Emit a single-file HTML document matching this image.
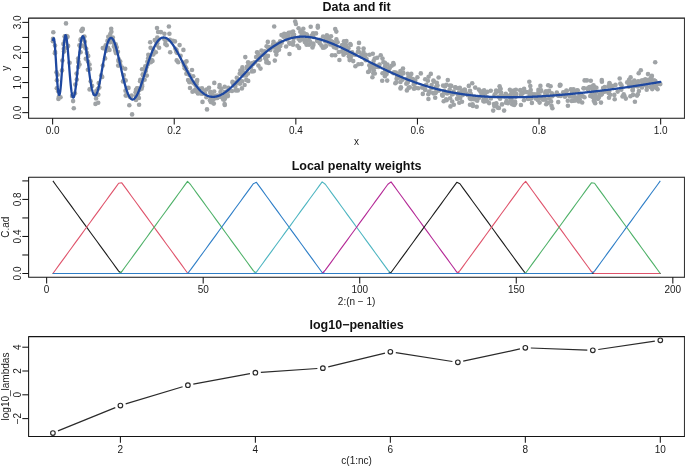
<!DOCTYPE html>
<html><head><meta charset="utf-8"><style>
html,body{margin:0;padding:0;background:#fff;width:685px;height:467px;overflow:hidden}
svg{display:block;font-family:"Liberation Sans", Arial, sans-serif}
</style></head><body>
<svg width="685" height="467" viewBox="0 0 685 467">
<rect width="685" height="467" fill="#fff"/>
<path d="M684.45,18.12 H28.6 V118.26 H684.45" fill="none" stroke="#141414" stroke-width="1.05" stroke-linejoin="round" stroke-linecap="square"/>
<line x1="684.45" y1="18.12" x2="684.45" y2="118.26" stroke="#2a2a2a" stroke-width="1.0"/>
<text x="356.60" y="10.80" font-size="12.5" text-anchor="middle" font-weight="bold" fill="#111">Data and fit</text>
<line x1="52.62" y1="118.26" x2="52.62" y2="124.56" stroke="#141414" stroke-width="1.05"/>
<text x="52.62" y="133.70" font-size="10" text-anchor="middle" fill="#1a1a1a">0.0</text>
<line x1="174.23" y1="118.26" x2="174.23" y2="124.56" stroke="#141414" stroke-width="1.05"/>
<text x="174.23" y="133.70" font-size="10" text-anchor="middle" fill="#1a1a1a">0.2</text>
<line x1="295.84" y1="118.26" x2="295.84" y2="124.56" stroke="#141414" stroke-width="1.05"/>
<text x="295.84" y="133.70" font-size="10" text-anchor="middle" fill="#1a1a1a">0.4</text>
<line x1="417.44" y1="118.26" x2="417.44" y2="124.56" stroke="#141414" stroke-width="1.05"/>
<text x="417.44" y="133.70" font-size="10" text-anchor="middle" fill="#1a1a1a">0.6</text>
<line x1="539.05" y1="118.26" x2="539.05" y2="124.56" stroke="#141414" stroke-width="1.05"/>
<text x="539.05" y="133.70" font-size="10" text-anchor="middle" fill="#1a1a1a">0.8</text>
<line x1="660.66" y1="118.26" x2="660.66" y2="124.56" stroke="#141414" stroke-width="1.05"/>
<text x="660.66" y="133.70" font-size="10" text-anchor="middle" fill="#1a1a1a">1.0</text>
<text x="356.60" y="145.10" font-size="10" text-anchor="middle" fill="#1a1a1a">x</text>
<line x1="28.60" y1="112.63" x2="22.30" y2="112.63" stroke="#141414" stroke-width="1.05"/>
<text transform="translate(21.30,112.63) rotate(-90)" font-size="10" text-anchor="middle" fill="#1a1a1a">0.0</text>
<line x1="28.60" y1="97.59" x2="22.30" y2="97.59" stroke="#141414" stroke-width="1.05"/>
<line x1="28.60" y1="82.54" x2="22.30" y2="82.54" stroke="#141414" stroke-width="1.05"/>
<text transform="translate(21.30,82.54) rotate(-90)" font-size="10" text-anchor="middle" fill="#1a1a1a">1.0</text>
<line x1="28.60" y1="67.50" x2="22.30" y2="67.50" stroke="#141414" stroke-width="1.05"/>
<line x1="28.60" y1="52.46" x2="22.30" y2="52.46" stroke="#141414" stroke-width="1.05"/>
<text transform="translate(21.30,52.46) rotate(-90)" font-size="10" text-anchor="middle" fill="#1a1a1a">2.0</text>
<line x1="28.60" y1="37.42" x2="22.30" y2="37.42" stroke="#141414" stroke-width="1.05"/>
<line x1="28.60" y1="22.38" x2="22.30" y2="22.38" stroke="#141414" stroke-width="1.05"/>
<text transform="translate(21.30,22.38) rotate(-90)" font-size="10" text-anchor="middle" fill="#1a1a1a">3.0</text>
<text transform="translate(8.60,68.19) rotate(-90)" font-size="10" text-anchor="middle" fill="#1a1a1a">y</text>
<g fill="#9fa3a6"><circle cx="227.5" cy="94.6" r="2.3"/><circle cx="531.9" cy="102.9" r="2.3"/><circle cx="301.3" cy="31.2" r="2.3"/><circle cx="589.5" cy="87.1" r="2.3"/><circle cx="624.5" cy="96.0" r="2.3"/><circle cx="80.3" cy="46.6" r="2.3"/><circle cx="373.7" cy="70.3" r="2.3"/><circle cx="595.2" cy="103.3" r="2.3"/><circle cx="387.9" cy="70.9" r="2.3"/><circle cx="330.3" cy="44.4" r="2.3"/><circle cx="634.4" cy="86.1" r="2.3"/><circle cx="328.3" cy="41.8" r="2.3"/><circle cx="464.6" cy="89.5" r="2.3"/><circle cx="400.8" cy="76.2" r="2.3"/><circle cx="115.2" cy="48.4" r="2.3"/><circle cx="599.7" cy="94.7" r="2.3"/><circle cx="202.3" cy="93.8" r="2.3"/><circle cx="78.2" cy="62.1" r="2.3"/><circle cx="252.0" cy="71.4" r="2.3"/><circle cx="633.0" cy="86.9" r="2.3"/><circle cx="593.5" cy="85.3" r="2.3"/><circle cx="473.9" cy="96.6" r="2.3"/><circle cx="442.1" cy="94.9" r="2.3"/><circle cx="657.2" cy="83.9" r="2.3"/><circle cx="451.3" cy="85.9" r="2.3"/><circle cx="483.4" cy="93.5" r="2.3"/><circle cx="383.4" cy="62.2" r="2.3"/><circle cx="413.9" cy="81.6" r="2.3"/><circle cx="228.4" cy="87.7" r="2.3"/><circle cx="142.1" cy="84.7" r="2.3"/><circle cx="638.2" cy="81.4" r="2.3"/><circle cx="601.3" cy="93.1" r="2.3"/><circle cx="472.6" cy="104.3" r="2.3"/><circle cx="536.3" cy="95.9" r="2.3"/><circle cx="67.6" cy="36.8" r="2.3"/><circle cx="343.1" cy="44.7" r="2.3"/><circle cx="513.8" cy="90.5" r="2.3"/><circle cx="184.2" cy="63.1" r="2.3"/><circle cx="246.1" cy="75.4" r="2.3"/><circle cx="193.5" cy="83.3" r="2.3"/><circle cx="139.4" cy="90.0" r="2.3"/><circle cx="304.7" cy="40.3" r="2.3"/><circle cx="304.2" cy="33.2" r="2.3"/><circle cx="276.9" cy="51.3" r="2.3"/><circle cx="145.3" cy="66.4" r="2.3"/><circle cx="137.0" cy="88.3" r="2.3"/><circle cx="194.3" cy="90.6" r="2.3"/><circle cx="335.9" cy="42.4" r="2.3"/><circle cx="214.3" cy="82.9" r="2.3"/><circle cx="574.2" cy="96.7" r="2.3"/><circle cx="80.5" cy="39.9" r="2.3"/><circle cx="321.5" cy="45.5" r="2.3"/><circle cx="538.4" cy="89.9" r="2.3"/><circle cx="126.7" cy="88.1" r="2.3"/><circle cx="393.7" cy="64.5" r="2.3"/><circle cx="178.2" cy="62.3" r="2.3"/><circle cx="130.2" cy="96.5" r="2.3"/><circle cx="510.7" cy="100.7" r="2.3"/><circle cx="596.8" cy="91.8" r="2.3"/><circle cx="280.3" cy="46.1" r="2.3"/><circle cx="457.0" cy="98.7" r="2.3"/><circle cx="110.3" cy="34.1" r="2.3"/><circle cx="286.1" cy="46.5" r="2.3"/><circle cx="219.5" cy="87.2" r="2.3"/><circle cx="548.0" cy="103.0" r="2.3"/><circle cx="325.3" cy="41.4" r="2.3"/><circle cx="545.2" cy="92.9" r="2.3"/><circle cx="546.6" cy="92.5" r="2.3"/><circle cx="535.6" cy="98.5" r="2.3"/><circle cx="320.1" cy="39.9" r="2.3"/><circle cx="511.4" cy="91.8" r="2.3"/><circle cx="435.2" cy="97.8" r="2.3"/><circle cx="484.4" cy="101.5" r="2.3"/><circle cx="53.0" cy="38.9" r="2.3"/><circle cx="341.6" cy="51.5" r="2.3"/><circle cx="186.5" cy="61.4" r="2.3"/><circle cx="283.6" cy="36.8" r="2.3"/><circle cx="425.2" cy="85.8" r="2.3"/><circle cx="266.5" cy="60.3" r="2.3"/><circle cx="120.2" cy="64.5" r="2.3"/><circle cx="200.8" cy="93.4" r="2.3"/><circle cx="458.8" cy="94.6" r="2.3"/><circle cx="306.6" cy="44.8" r="2.3"/><circle cx="531.9" cy="93.9" r="2.3"/><circle cx="115.2" cy="50.8" r="2.3"/><circle cx="317.1" cy="40.9" r="2.3"/><circle cx="651.5" cy="80.8" r="2.3"/><circle cx="595.6" cy="95.5" r="2.3"/><circle cx="591.6" cy="87.8" r="2.3"/><circle cx="159.1" cy="47.8" r="2.3"/><circle cx="132.1" cy="114.4" r="2.3"/><circle cx="449.7" cy="89.6" r="2.3"/><circle cx="261.5" cy="50.6" r="2.3"/><circle cx="452.0" cy="94.5" r="2.3"/><circle cx="247.4" cy="67.2" r="2.3"/><circle cx="166.7" cy="45.2" r="2.3"/><circle cx="528.3" cy="97.9" r="2.3"/><circle cx="109.5" cy="50.0" r="2.3"/><circle cx="336.4" cy="39.4" r="2.3"/><circle cx="363.6" cy="48.6" r="2.3"/><circle cx="417.4" cy="77.2" r="2.3"/><circle cx="255.0" cy="62.2" r="2.3"/><circle cx="349.7" cy="53.0" r="2.3"/><circle cx="633.0" cy="94.9" r="2.3"/><circle cx="346.2" cy="46.3" r="2.3"/><circle cx="594.0" cy="92.3" r="2.3"/><circle cx="608.6" cy="93.1" r="2.3"/><circle cx="422.8" cy="93.9" r="2.3"/><circle cx="302.3" cy="39.2" r="2.3"/><circle cx="142.1" cy="86.5" r="2.3"/><circle cx="621.3" cy="89.8" r="2.3"/><circle cx="235.8" cy="90.4" r="2.3"/><circle cx="89.5" cy="64.6" r="2.3"/><circle cx="628.9" cy="86.4" r="2.3"/><circle cx="490.8" cy="90.7" r="2.3"/><circle cx="139.1" cy="104.8" r="2.3"/><circle cx="386.6" cy="73.9" r="2.3"/><circle cx="632.7" cy="89.8" r="2.3"/><circle cx="408.6" cy="87.9" r="2.3"/><circle cx="298.6" cy="28.2" r="2.3"/><circle cx="446.6" cy="100.2" r="2.3"/><circle cx="247.1" cy="68.7" r="2.3"/><circle cx="239.7" cy="73.7" r="2.3"/><circle cx="186.2" cy="68.2" r="2.3"/><circle cx="277.3" cy="49.1" r="2.3"/><circle cx="651.1" cy="77.5" r="2.3"/><circle cx="146.4" cy="67.3" r="2.3"/><circle cx="108.0" cy="47.8" r="2.3"/><circle cx="138.9" cy="98.0" r="2.3"/><circle cx="472.2" cy="83.2" r="2.3"/><circle cx="429.2" cy="91.5" r="2.3"/><circle cx="594.6" cy="102.1" r="2.3"/><circle cx="461.8" cy="91.2" r="2.3"/><circle cx="500.8" cy="95.7" r="2.3"/><circle cx="369.5" cy="71.0" r="2.3"/><circle cx="453.8" cy="104.8" r="2.3"/><circle cx="552.3" cy="96.2" r="2.3"/><circle cx="530.7" cy="90.1" r="2.3"/><circle cx="648.4" cy="79.7" r="2.3"/><circle cx="319.8" cy="43.2" r="2.3"/><circle cx="242.1" cy="81.2" r="2.3"/><circle cx="301.6" cy="35.8" r="2.3"/><circle cx="59.0" cy="96.5" r="2.3"/><circle cx="164.4" cy="33.7" r="2.3"/><circle cx="565.0" cy="96.7" r="2.3"/><circle cx="193.2" cy="76.2" r="2.3"/><circle cx="198.0" cy="93.5" r="2.3"/><circle cx="99.3" cy="87.6" r="2.3"/><circle cx="202.0" cy="88.3" r="2.3"/><circle cx="497.8" cy="91.5" r="2.3"/><circle cx="567.9" cy="105.7" r="2.3"/><circle cx="355.1" cy="54.8" r="2.3"/><circle cx="288.5" cy="35.5" r="2.3"/><circle cx="202.5" cy="101.9" r="2.3"/><circle cx="120.2" cy="61.6" r="2.3"/><circle cx="289.8" cy="43.8" r="2.3"/><circle cx="400.4" cy="71.1" r="2.3"/><circle cx="184.5" cy="62.6" r="2.3"/><circle cx="323.1" cy="36.6" r="2.3"/><circle cx="185.2" cy="66.4" r="2.3"/><circle cx="358.0" cy="51.8" r="2.3"/><circle cx="267.8" cy="41.9" r="2.3"/><circle cx="447.8" cy="80.1" r="2.3"/><circle cx="280.5" cy="42.4" r="2.3"/><circle cx="268.7" cy="63.0" r="2.3"/><circle cx="377.1" cy="66.4" r="2.3"/><circle cx="502.8" cy="96.3" r="2.3"/><circle cx="187.1" cy="71.7" r="2.3"/><circle cx="303.6" cy="34.0" r="2.3"/><circle cx="214.2" cy="91.5" r="2.3"/><circle cx="435.7" cy="92.3" r="2.3"/><circle cx="164.4" cy="39.2" r="2.3"/><circle cx="577.8" cy="90.6" r="2.3"/><circle cx="506.6" cy="100.9" r="2.3"/><circle cx="459.0" cy="93.4" r="2.3"/><circle cx="428.4" cy="99.0" r="2.3"/><circle cx="279.0" cy="49.7" r="2.3"/><circle cx="374.8" cy="73.5" r="2.3"/><circle cx="584.5" cy="97.3" r="2.3"/><circle cx="406.3" cy="83.8" r="2.3"/><circle cx="563.2" cy="92.2" r="2.3"/><circle cx="242.6" cy="69.7" r="2.3"/><circle cx="483.3" cy="101.1" r="2.3"/><circle cx="213.8" cy="103.6" r="2.3"/><circle cx="414.0" cy="88.8" r="2.3"/><circle cx="345.3" cy="53.1" r="2.3"/><circle cx="213.8" cy="99.0" r="2.3"/><circle cx="395.9" cy="72.5" r="2.3"/><circle cx="607.9" cy="91.2" r="2.3"/><circle cx="601.0" cy="102.6" r="2.3"/><circle cx="219.3" cy="96.7" r="2.3"/><circle cx="248.1" cy="62.3" r="2.3"/><circle cx="651.9" cy="75.9" r="2.3"/><circle cx="429.6" cy="92.3" r="2.3"/><circle cx="622.5" cy="96.5" r="2.3"/><circle cx="336.3" cy="31.6" r="2.3"/><circle cx="300.0" cy="38.4" r="2.3"/><circle cx="453.5" cy="93.6" r="2.3"/><circle cx="145.3" cy="69.3" r="2.3"/><circle cx="400.9" cy="87.2" r="2.3"/><circle cx="197.8" cy="92.6" r="2.3"/><circle cx="637.8" cy="94.3" r="2.3"/><circle cx="418.3" cy="88.2" r="2.3"/><circle cx="365.8" cy="60.2" r="2.3"/><circle cx="297.4" cy="45.8" r="2.3"/><circle cx="587.8" cy="88.2" r="2.3"/><circle cx="274.0" cy="44.1" r="2.3"/><circle cx="227.9" cy="96.1" r="2.3"/><circle cx="156.4" cy="42.1" r="2.3"/><circle cx="157.3" cy="37.5" r="2.3"/><circle cx="345.7" cy="44.4" r="2.3"/><circle cx="206.4" cy="97.2" r="2.3"/><circle cx="184.1" cy="65.6" r="2.3"/><circle cx="462.7" cy="95.1" r="2.3"/><circle cx="81.6" cy="30.9" r="2.3"/><circle cx="478.8" cy="89.6" r="2.3"/><circle cx="266.6" cy="46.2" r="2.3"/><circle cx="301.3" cy="39.1" r="2.3"/><circle cx="551.8" cy="93.3" r="2.3"/><circle cx="611.3" cy="86.3" r="2.3"/><circle cx="224.4" cy="99.6" r="2.3"/><circle cx="637.0" cy="95.6" r="2.3"/><circle cx="495.5" cy="93.5" r="2.3"/><circle cx="470.0" cy="104.7" r="2.3"/><circle cx="84.8" cy="41.6" r="2.3"/><circle cx="292.9" cy="36.7" r="2.3"/><circle cx="343.2" cy="46.2" r="2.3"/><circle cx="393.3" cy="73.1" r="2.3"/><circle cx="477.2" cy="100.7" r="2.3"/><circle cx="609.4" cy="83.1" r="2.3"/><circle cx="428.6" cy="76.8" r="2.3"/><circle cx="313.1" cy="33.3" r="2.3"/><circle cx="382.2" cy="80.8" r="2.3"/><circle cx="88.2" cy="55.9" r="2.3"/><circle cx="211.2" cy="97.8" r="2.3"/><circle cx="294.1" cy="34.8" r="2.3"/><circle cx="172.9" cy="40.8" r="2.3"/><circle cx="558.5" cy="95.6" r="2.3"/><circle cx="145.6" cy="71.2" r="2.3"/><circle cx="541.1" cy="90.2" r="2.3"/><circle cx="385.1" cy="66.2" r="2.3"/><circle cx="455.3" cy="87.4" r="2.3"/><circle cx="157.0" cy="28.1" r="2.3"/><circle cx="437.5" cy="85.6" r="2.3"/><circle cx="242.2" cy="74.8" r="2.3"/><circle cx="493.2" cy="110.6" r="2.3"/><circle cx="295.2" cy="21.6" r="2.3"/><circle cx="642.0" cy="87.4" r="2.3"/><circle cx="640.8" cy="70.3" r="2.3"/><circle cx="494.5" cy="95.1" r="2.3"/><circle cx="209.0" cy="87.7" r="2.3"/><circle cx="187.5" cy="72.2" r="2.3"/><circle cx="413.2" cy="79.2" r="2.3"/><circle cx="215.3" cy="96.1" r="2.3"/><circle cx="375.5" cy="67.0" r="2.3"/><circle cx="530.1" cy="97.7" r="2.3"/><circle cx="154.8" cy="40.1" r="2.3"/><circle cx="298.5" cy="38.7" r="2.3"/><circle cx="339.4" cy="60.0" r="2.3"/><circle cx="580.5" cy="93.8" r="2.3"/><circle cx="615.5" cy="84.9" r="2.3"/><circle cx="588.9" cy="87.9" r="2.3"/><circle cx="462.6" cy="90.8" r="2.3"/><circle cx="630.4" cy="96.3" r="2.3"/><circle cx="366.6" cy="59.1" r="2.3"/><circle cx="403.2" cy="72.6" r="2.3"/><circle cx="257.1" cy="52.2" r="2.3"/><circle cx="263.8" cy="54.9" r="2.3"/><circle cx="64.8" cy="41.1" r="2.3"/><circle cx="358.4" cy="48.2" r="2.3"/><circle cx="582.2" cy="102.5" r="2.3"/><circle cx="56.5" cy="72.2" r="2.3"/><circle cx="96.4" cy="93.4" r="2.3"/><circle cx="152.5" cy="61.0" r="2.3"/><circle cx="521.0" cy="95.7" r="2.3"/><circle cx="499.6" cy="86.2" r="2.3"/><circle cx="643.6" cy="84.3" r="2.3"/><circle cx="336.3" cy="48.1" r="2.3"/><circle cx="97.8" cy="89.1" r="2.3"/><circle cx="447.1" cy="93.5" r="2.3"/><circle cx="513.9" cy="92.7" r="2.3"/><circle cx="136.0" cy="89.7" r="2.3"/><circle cx="293.8" cy="38.0" r="2.3"/><circle cx="189.4" cy="82.3" r="2.3"/><circle cx="87.9" cy="69.7" r="2.3"/><circle cx="293.3" cy="41.7" r="2.3"/><circle cx="92.1" cy="85.9" r="2.3"/><circle cx="190.0" cy="88.0" r="2.3"/><circle cx="85.8" cy="58.7" r="2.3"/><circle cx="460.2" cy="98.1" r="2.3"/><circle cx="233.7" cy="82.9" r="2.3"/><circle cx="113.9" cy="46.5" r="2.3"/><circle cx="96.3" cy="91.0" r="2.3"/><circle cx="588.0" cy="89.8" r="2.3"/><circle cx="511.2" cy="98.6" r="2.3"/><circle cx="549.1" cy="90.9" r="2.3"/><circle cx="649.8" cy="81.0" r="2.3"/><circle cx="115.6" cy="48.7" r="2.3"/><circle cx="112.8" cy="37.6" r="2.3"/><circle cx="538.3" cy="92.7" r="2.3"/><circle cx="529.7" cy="94.9" r="2.3"/><circle cx="58.4" cy="98.9" r="2.3"/><circle cx="526.3" cy="92.0" r="2.3"/><circle cx="496.1" cy="90.5" r="2.3"/><circle cx="435.8" cy="87.5" r="2.3"/><circle cx="345.0" cy="49.6" r="2.3"/><circle cx="147.9" cy="64.3" r="2.3"/><circle cx="57.6" cy="74.7" r="2.3"/><circle cx="327.7" cy="41.2" r="2.3"/><circle cx="352.0" cy="54.8" r="2.3"/><circle cx="289.5" cy="54.0" r="2.3"/><circle cx="335.2" cy="55.3" r="2.3"/><circle cx="486.3" cy="97.4" r="2.3"/><circle cx="86.2" cy="48.7" r="2.3"/><circle cx="268.3" cy="48.1" r="2.3"/><circle cx="540.8" cy="91.5" r="2.3"/><circle cx="560.8" cy="95.9" r="2.3"/><circle cx="197.2" cy="80.1" r="2.3"/><circle cx="267.9" cy="55.7" r="2.3"/><circle cx="573.6" cy="100.7" r="2.3"/><circle cx="571.7" cy="101.0" r="2.3"/><circle cx="232.5" cy="81.9" r="2.3"/><circle cx="142.0" cy="82.0" r="2.3"/><circle cx="480.7" cy="91.8" r="2.3"/><circle cx="115.7" cy="48.0" r="2.3"/><circle cx="73.1" cy="101.1" r="2.3"/><circle cx="660.3" cy="84.1" r="2.3"/><circle cx="73.8" cy="108.2" r="2.3"/><circle cx="258.4" cy="65.6" r="2.3"/><circle cx="609.0" cy="97.7" r="2.3"/><circle cx="427.9" cy="80.7" r="2.3"/><circle cx="226.7" cy="95.2" r="2.3"/><circle cx="501.2" cy="92.8" r="2.3"/><circle cx="559.8" cy="85.7" r="2.3"/><circle cx="243.7" cy="75.5" r="2.3"/><circle cx="352.1" cy="52.2" r="2.3"/><circle cx="476.7" cy="106.7" r="2.3"/><circle cx="442.7" cy="95.8" r="2.3"/><circle cx="444.2" cy="90.8" r="2.3"/><circle cx="647.2" cy="81.9" r="2.3"/><circle cx="304.8" cy="42.1" r="2.3"/><circle cx="125.2" cy="68.8" r="2.3"/><circle cx="372.5" cy="67.1" r="2.3"/><circle cx="189.5" cy="74.9" r="2.3"/><circle cx="348.4" cy="48.2" r="2.3"/><circle cx="277.7" cy="43.8" r="2.3"/><circle cx="650.5" cy="87.1" r="2.3"/><circle cx="288.7" cy="32.8" r="2.3"/><circle cx="192.0" cy="70.0" r="2.3"/><circle cx="431.6" cy="88.3" r="2.3"/><circle cx="135.6" cy="92.2" r="2.3"/><circle cx="640.9" cy="85.2" r="2.3"/><circle cx="365.8" cy="54.8" r="2.3"/><circle cx="151.8" cy="60.0" r="2.3"/><circle cx="430.8" cy="73.9" r="2.3"/><circle cx="652.1" cy="86.6" r="2.3"/><circle cx="459.3" cy="102.8" r="2.3"/><circle cx="307.3" cy="39.8" r="2.3"/><circle cx="249.2" cy="67.3" r="2.3"/><circle cx="560.5" cy="85.0" r="2.3"/><circle cx="140.1" cy="81.3" r="2.3"/><circle cx="169.9" cy="39.9" r="2.3"/><circle cx="597.9" cy="98.9" r="2.3"/><circle cx="240.0" cy="83.8" r="2.3"/><circle cx="273.5" cy="47.1" r="2.3"/><circle cx="529.3" cy="81.7" r="2.3"/><circle cx="170.2" cy="52.3" r="2.3"/><circle cx="63.4" cy="43.9" r="2.3"/><circle cx="299.9" cy="40.6" r="2.3"/><circle cx="346.4" cy="41.1" r="2.3"/><circle cx="309.1" cy="44.8" r="2.3"/><circle cx="261.1" cy="55.2" r="2.3"/><circle cx="579.5" cy="99.4" r="2.3"/><circle cx="329.3" cy="38.1" r="2.3"/><circle cx="377.2" cy="57.7" r="2.3"/><circle cx="638.7" cy="73.2" r="2.3"/><circle cx="523.6" cy="92.5" r="2.3"/><circle cx="179.6" cy="45.1" r="2.3"/><circle cx="240.4" cy="70.6" r="2.3"/><circle cx="643.2" cy="85.1" r="2.3"/><circle cx="408.3" cy="77.5" r="2.3"/><circle cx="515.2" cy="103.4" r="2.3"/><circle cx="279.2" cy="43.9" r="2.3"/><circle cx="520.3" cy="90.1" r="2.3"/><circle cx="379.5" cy="64.6" r="2.3"/><circle cx="608.4" cy="86.4" r="2.3"/><circle cx="165.3" cy="43.9" r="2.3"/><circle cx="224.2" cy="97.1" r="2.3"/><circle cx="110.4" cy="42.2" r="2.3"/><circle cx="180.6" cy="55.8" r="2.3"/><circle cx="646.7" cy="89.8" r="2.3"/><circle cx="232.8" cy="82.8" r="2.3"/><circle cx="494.0" cy="104.0" r="2.3"/><circle cx="530.3" cy="86.0" r="2.3"/><circle cx="116.7" cy="47.2" r="2.3"/><circle cx="198.3" cy="93.0" r="2.3"/><circle cx="217.1" cy="95.5" r="2.3"/><circle cx="114.1" cy="43.6" r="2.3"/><circle cx="124.3" cy="79.5" r="2.3"/><circle cx="655.3" cy="81.1" r="2.3"/><circle cx="652.2" cy="89.1" r="2.3"/><circle cx="136.0" cy="99.9" r="2.3"/><circle cx="603.1" cy="88.0" r="2.3"/><circle cx="403.0" cy="68.5" r="2.3"/><circle cx="293.1" cy="31.6" r="2.3"/><circle cx="326.1" cy="46.1" r="2.3"/><circle cx="482.2" cy="91.7" r="2.3"/><circle cx="102.8" cy="65.6" r="2.3"/><circle cx="258.9" cy="56.2" r="2.3"/><circle cx="466.6" cy="93.5" r="2.3"/><circle cx="245.3" cy="57.1" r="2.3"/><circle cx="558.2" cy="102.1" r="2.3"/><circle cx="183.5" cy="63.1" r="2.3"/><circle cx="355.4" cy="66.3" r="2.3"/><circle cx="220.5" cy="92.1" r="2.3"/><circle cx="169.4" cy="33.7" r="2.3"/><circle cx="630.6" cy="77.4" r="2.3"/><circle cx="248.2" cy="80.9" r="2.3"/><circle cx="343.5" cy="47.3" r="2.3"/><circle cx="69.6" cy="62.8" r="2.3"/><circle cx="385.5" cy="73.2" r="2.3"/><circle cx="444.3" cy="92.5" r="2.3"/><circle cx="415.2" cy="83.1" r="2.3"/><circle cx="248.4" cy="67.0" r="2.3"/><circle cx="594.5" cy="87.0" r="2.3"/><circle cx="433.4" cy="80.6" r="2.3"/><circle cx="236.8" cy="82.6" r="2.3"/><circle cx="288.7" cy="38.0" r="2.3"/><circle cx="150.2" cy="42.2" r="2.3"/><circle cx="577.1" cy="90.4" r="2.3"/><circle cx="632.1" cy="84.7" r="2.3"/><circle cx="395.3" cy="83.2" r="2.3"/><circle cx="253.0" cy="64.1" r="2.3"/><circle cx="658.6" cy="83.4" r="2.3"/><circle cx="195.4" cy="85.0" r="2.3"/><circle cx="425.1" cy="89.7" r="2.3"/><circle cx="118.4" cy="60.9" r="2.3"/><circle cx="348.8" cy="56.6" r="2.3"/><circle cx="113.1" cy="40.7" r="2.3"/><circle cx="150.6" cy="47.8" r="2.3"/><circle cx="224.7" cy="86.8" r="2.3"/><circle cx="407.6" cy="82.3" r="2.3"/><circle cx="497.5" cy="107.6" r="2.3"/><circle cx="153.3" cy="54.5" r="2.3"/><circle cx="579.5" cy="95.5" r="2.3"/><circle cx="483.5" cy="96.1" r="2.3"/><circle cx="515.0" cy="101.5" r="2.3"/><circle cx="142.1" cy="69.3" r="2.3"/><circle cx="270.3" cy="49.9" r="2.3"/><circle cx="462.0" cy="101.8" r="2.3"/><circle cx="371.1" cy="64.5" r="2.3"/><circle cx="265.3" cy="58.3" r="2.3"/><circle cx="198.9" cy="88.6" r="2.3"/><circle cx="88.0" cy="61.5" r="2.3"/><circle cx="196.5" cy="84.4" r="2.3"/><circle cx="593.8" cy="100.8" r="2.3"/><circle cx="546.2" cy="94.7" r="2.3"/><circle cx="507.1" cy="95.7" r="2.3"/><circle cx="146.8" cy="75.6" r="2.3"/><circle cx="128.5" cy="87.9" r="2.3"/><circle cx="645.3" cy="79.3" r="2.3"/><circle cx="317.8" cy="25.9" r="2.3"/><circle cx="334.8" cy="44.8" r="2.3"/><circle cx="153.1" cy="49.5" r="2.3"/><circle cx="408.3" cy="79.8" r="2.3"/><circle cx="217.3" cy="96.5" r="2.3"/><circle cx="192.5" cy="91.7" r="2.3"/><circle cx="472.9" cy="105.9" r="2.3"/><circle cx="224.6" cy="93.7" r="2.3"/><circle cx="545.4" cy="99.6" r="2.3"/><circle cx="109.7" cy="37.7" r="2.3"/><circle cx="552.4" cy="108.2" r="2.3"/><circle cx="312.5" cy="47.5" r="2.3"/><circle cx="512.2" cy="104.2" r="2.3"/><circle cx="455.4" cy="87.5" r="2.3"/><circle cx="322.9" cy="47.8" r="2.3"/><circle cx="433.9" cy="93.5" r="2.3"/><circle cx="52.9" cy="41.3" r="2.3"/><circle cx="184.7" cy="68.2" r="2.3"/><circle cx="481.2" cy="95.7" r="2.3"/><circle cx="183.4" cy="49.9" r="2.3"/><circle cx="547.5" cy="102.7" r="2.3"/><circle cx="239.8" cy="80.6" r="2.3"/><circle cx="470.8" cy="98.7" r="2.3"/><circle cx="619.7" cy="78.5" r="2.3"/><circle cx="123.0" cy="81.4" r="2.3"/><circle cx="130.3" cy="96.8" r="2.3"/><circle cx="465.0" cy="90.1" r="2.3"/><circle cx="313.4" cy="45.1" r="2.3"/><circle cx="560.0" cy="84.9" r="2.3"/><circle cx="643.3" cy="80.2" r="2.3"/><circle cx="95.5" cy="103.9" r="2.3"/><circle cx="332.2" cy="41.9" r="2.3"/><circle cx="479.2" cy="97.7" r="2.3"/><circle cx="105.5" cy="48.8" r="2.3"/><circle cx="656.4" cy="82.9" r="2.3"/><circle cx="206.5" cy="89.5" r="2.3"/><circle cx="82.7" cy="45.6" r="2.3"/><circle cx="469.9" cy="98.6" r="2.3"/><circle cx="531.1" cy="98.5" r="2.3"/><circle cx="267.6" cy="56.3" r="2.3"/><circle cx="275.4" cy="51.2" r="2.3"/><circle cx="227.2" cy="91.3" r="2.3"/><circle cx="101.2" cy="75.3" r="2.3"/><circle cx="274.8" cy="60.6" r="2.3"/><circle cx="160.9" cy="32.1" r="2.3"/><circle cx="378.6" cy="65.8" r="2.3"/><circle cx="359.0" cy="42.9" r="2.3"/><circle cx="627.2" cy="82.4" r="2.3"/><circle cx="260.2" cy="59.6" r="2.3"/><circle cx="335.2" cy="29.1" r="2.3"/><circle cx="102.8" cy="48.1" r="2.3"/><circle cx="575.6" cy="100.5" r="2.3"/><circle cx="293.2" cy="35.3" r="2.3"/><circle cx="500.1" cy="98.8" r="2.3"/><circle cx="157.0" cy="41.3" r="2.3"/><circle cx="329.1" cy="42.1" r="2.3"/><circle cx="520.9" cy="105.0" r="2.3"/><circle cx="90.7" cy="81.3" r="2.3"/><circle cx="548.2" cy="85.3" r="2.3"/><circle cx="235.7" cy="84.1" r="2.3"/><circle cx="274.4" cy="46.6" r="2.3"/><circle cx="242.4" cy="67.4" r="2.3"/><circle cx="75.3" cy="84.6" r="2.3"/><circle cx="368.1" cy="72.0" r="2.3"/><circle cx="465.5" cy="93.6" r="2.3"/><circle cx="601.8" cy="80.1" r="2.3"/><circle cx="68.1" cy="45.9" r="2.3"/><circle cx="654.0" cy="80.2" r="2.3"/><circle cx="236.8" cy="77.7" r="2.3"/><circle cx="623.7" cy="94.3" r="2.3"/><circle cx="470.7" cy="93.8" r="2.3"/><circle cx="324.4" cy="47.5" r="2.3"/><circle cx="549.1" cy="98.5" r="2.3"/><circle cx="76.6" cy="73.6" r="2.3"/><circle cx="502.0" cy="104.4" r="2.3"/><circle cx="264.7" cy="51.2" r="2.3"/><circle cx="556.8" cy="92.5" r="2.3"/><circle cx="378.3" cy="66.9" r="2.3"/><circle cx="219.6" cy="85.1" r="2.3"/><circle cx="539.6" cy="102.6" r="2.3"/><circle cx="108.3" cy="36.8" r="2.3"/><circle cx="558.6" cy="95.5" r="2.3"/><circle cx="221.0" cy="97.0" r="2.3"/><circle cx="510.5" cy="94.8" r="2.3"/><circle cx="638.9" cy="91.1" r="2.3"/><circle cx="102.2" cy="77.0" r="2.3"/><circle cx="572.1" cy="96.6" r="2.3"/><circle cx="540.4" cy="85.9" r="2.3"/><circle cx="286.8" cy="39.3" r="2.3"/><circle cx="251.8" cy="63.4" r="2.3"/><circle cx="177.2" cy="52.9" r="2.3"/><circle cx="398.8" cy="73.8" r="2.3"/><circle cx="592.6" cy="96.9" r="2.3"/><circle cx="374.7" cy="58.5" r="2.3"/><circle cx="409.5" cy="77.4" r="2.3"/><circle cx="457.4" cy="98.6" r="2.3"/><circle cx="374.8" cy="65.2" r="2.3"/><circle cx="362.6" cy="55.0" r="2.3"/><circle cx="62.4" cy="60.5" r="2.3"/><circle cx="81.6" cy="30.6" r="2.3"/><circle cx="617.7" cy="91.6" r="2.3"/><circle cx="520.4" cy="90.7" r="2.3"/><circle cx="174.9" cy="41.4" r="2.3"/><circle cx="448.0" cy="93.0" r="2.3"/><circle cx="450.1" cy="98.3" r="2.3"/><circle cx="293.0" cy="44.7" r="2.3"/><circle cx="546.5" cy="93.2" r="2.3"/><circle cx="385.2" cy="71.0" r="2.3"/><circle cx="590.8" cy="80.7" r="2.3"/><circle cx="389.1" cy="69.1" r="2.3"/><circle cx="603.5" cy="92.0" r="2.3"/><circle cx="409.8" cy="87.2" r="2.3"/><circle cx="310.1" cy="41.6" r="2.3"/><circle cx="630.0" cy="84.1" r="2.3"/><circle cx="483.7" cy="99.5" r="2.3"/><circle cx="303.9" cy="34.4" r="2.3"/><circle cx="63.8" cy="48.7" r="2.3"/><circle cx="397.2" cy="76.6" r="2.3"/><circle cx="350.6" cy="57.6" r="2.3"/><circle cx="586.9" cy="80.4" r="2.3"/><circle cx="546.9" cy="94.0" r="2.3"/><circle cx="571.9" cy="92.2" r="2.3"/><circle cx="276.3" cy="54.6" r="2.3"/><circle cx="584.0" cy="88.3" r="2.3"/><circle cx="144.6" cy="79.8" r="2.3"/><circle cx="224.0" cy="99.0" r="2.3"/><circle cx="458.0" cy="88.3" r="2.3"/><circle cx="646.9" cy="86.5" r="2.3"/><circle cx="406.9" cy="90.4" r="2.3"/><circle cx="372.8" cy="53.8" r="2.3"/><circle cx="89.6" cy="89.4" r="2.3"/><circle cx="641.8" cy="81.0" r="2.3"/><circle cx="125.7" cy="80.5" r="2.3"/><circle cx="106.3" cy="50.7" r="2.3"/><circle cx="588.2" cy="89.1" r="2.3"/><circle cx="361.7" cy="56.2" r="2.3"/><circle cx="257.8" cy="52.9" r="2.3"/><circle cx="596.4" cy="87.8" r="2.3"/><circle cx="72.1" cy="95.9" r="2.3"/><circle cx="196.9" cy="81.5" r="2.3"/><circle cx="470.0" cy="90.7" r="2.3"/><circle cx="189.9" cy="81.7" r="2.3"/><circle cx="246.3" cy="79.9" r="2.3"/><circle cx="158.4" cy="39.6" r="2.3"/><circle cx="539.9" cy="98.1" r="2.3"/><circle cx="141.6" cy="88.7" r="2.3"/><circle cx="552.9" cy="95.0" r="2.3"/><circle cx="253.9" cy="71.1" r="2.3"/><circle cx="280.1" cy="41.4" r="2.3"/><circle cx="435.5" cy="92.9" r="2.3"/><circle cx="111.4" cy="31.7" r="2.3"/><circle cx="66.0" cy="23.4" r="2.3"/><circle cx="656.4" cy="87.9" r="2.3"/><circle cx="407.7" cy="73.8" r="2.3"/><circle cx="528.0" cy="92.2" r="2.3"/><circle cx="594.9" cy="91.3" r="2.3"/><circle cx="511.6" cy="100.3" r="2.3"/><circle cx="648.0" cy="74.1" r="2.3"/><circle cx="79.5" cy="64.5" r="2.3"/><circle cx="601.9" cy="93.9" r="2.3"/><circle cx="578.9" cy="101.5" r="2.3"/><circle cx="524.1" cy="88.9" r="2.3"/><circle cx="281.7" cy="42.8" r="2.3"/><circle cx="78.2" cy="66.9" r="2.3"/><circle cx="274.2" cy="26.5" r="2.3"/><circle cx="219.1" cy="96.6" r="2.3"/><circle cx="569.7" cy="96.5" r="2.3"/><circle cx="273.0" cy="44.7" r="2.3"/><circle cx="237.8" cy="90.4" r="2.3"/><circle cx="514.2" cy="94.6" r="2.3"/><circle cx="566.3" cy="94.8" r="2.3"/><circle cx="331.1" cy="41.4" r="2.3"/><circle cx="496.3" cy="103.3" r="2.3"/><circle cx="115.9" cy="53.1" r="2.3"/><circle cx="186.4" cy="73.7" r="2.3"/><circle cx="632.7" cy="90.4" r="2.3"/><circle cx="509.9" cy="89.8" r="2.3"/><circle cx="550.6" cy="86.2" r="2.3"/><circle cx="306.6" cy="38.6" r="2.3"/><circle cx="413.7" cy="84.6" r="2.3"/><circle cx="538.3" cy="98.5" r="2.3"/><circle cx="592.8" cy="90.8" r="2.3"/><circle cx="286.8" cy="39.1" r="2.3"/><circle cx="107.5" cy="40.9" r="2.3"/><circle cx="433.1" cy="93.0" r="2.3"/><circle cx="506.0" cy="102.7" r="2.3"/><circle cx="104.5" cy="48.2" r="2.3"/><circle cx="235.3" cy="86.8" r="2.3"/><circle cx="426.3" cy="84.7" r="2.3"/><circle cx="510.4" cy="97.9" r="2.3"/><circle cx="610.2" cy="94.7" r="2.3"/><circle cx="341.9" cy="45.4" r="2.3"/><circle cx="397.5" cy="75.0" r="2.3"/><circle cx="500.5" cy="89.1" r="2.3"/><circle cx="574.0" cy="92.7" r="2.3"/><circle cx="605.4" cy="91.5" r="2.3"/><circle cx="86.9" cy="52.9" r="2.3"/><circle cx="358.4" cy="64.3" r="2.3"/><circle cx="265.8" cy="56.9" r="2.3"/><circle cx="566.8" cy="91.1" r="2.3"/><circle cx="543.0" cy="98.3" r="2.3"/><circle cx="124.0" cy="80.8" r="2.3"/><circle cx="486.0" cy="97.6" r="2.3"/><circle cx="195.7" cy="89.3" r="2.3"/><circle cx="98.2" cy="102.7" r="2.3"/><circle cx="621.5" cy="85.3" r="2.3"/><circle cx="148.2" cy="58.3" r="2.3"/><circle cx="446.1" cy="99.4" r="2.3"/><circle cx="158.1" cy="32.0" r="2.3"/><circle cx="64.8" cy="36.7" r="2.3"/><circle cx="369.6" cy="54.8" r="2.3"/><circle cx="105.1" cy="58.4" r="2.3"/><circle cx="224.7" cy="92.1" r="2.3"/><circle cx="308.3" cy="38.4" r="2.3"/><circle cx="409.7" cy="76.3" r="2.3"/><circle cx="543.1" cy="99.7" r="2.3"/><circle cx="175.4" cy="48.7" r="2.3"/><circle cx="332.0" cy="55.3" r="2.3"/><circle cx="325.1" cy="46.6" r="2.3"/><circle cx="498.8" cy="96.7" r="2.3"/><circle cx="487.2" cy="101.3" r="2.3"/><circle cx="558.0" cy="95.3" r="2.3"/><circle cx="591.7" cy="94.1" r="2.3"/><circle cx="631.9" cy="82.3" r="2.3"/><circle cx="387.4" cy="64.5" r="2.3"/><circle cx="370.2" cy="68.1" r="2.3"/><circle cx="156.4" cy="45.2" r="2.3"/><circle cx="344.0" cy="41.3" r="2.3"/><circle cx="207.0" cy="109.4" r="2.3"/><circle cx="76.8" cy="79.5" r="2.3"/><circle cx="438.6" cy="77.5" r="2.3"/><circle cx="380.7" cy="55.2" r="2.3"/><circle cx="137.8" cy="91.1" r="2.3"/><circle cx="225.1" cy="98.0" r="2.3"/><circle cx="407.1" cy="79.0" r="2.3"/><circle cx="153.0" cy="54.1" r="2.3"/><circle cx="111.2" cy="28.7" r="2.3"/><circle cx="313.2" cy="43.5" r="2.3"/><circle cx="268.9" cy="47.1" r="2.3"/><circle cx="566.4" cy="90.5" r="2.3"/><circle cx="210.8" cy="102.0" r="2.3"/><circle cx="66.7" cy="36.0" r="2.3"/><circle cx="577.0" cy="97.6" r="2.3"/><circle cx="256.1" cy="57.1" r="2.3"/><circle cx="436.8" cy="82.8" r="2.3"/><circle cx="384.9" cy="76.3" r="2.3"/><circle cx="281.5" cy="35.1" r="2.3"/><circle cx="165.6" cy="40.7" r="2.3"/><circle cx="313.4" cy="36.9" r="2.3"/><circle cx="436.2" cy="88.1" r="2.3"/><circle cx="369.3" cy="65.3" r="2.3"/><circle cx="453.7" cy="91.5" r="2.3"/><circle cx="496.1" cy="104.8" r="2.3"/><circle cx="348.6" cy="53.0" r="2.3"/><circle cx="286.4" cy="34.9" r="2.3"/><circle cx="56.8" cy="88.3" r="2.3"/><circle cx="54.9" cy="53.3" r="2.3"/><circle cx="657.6" cy="89.2" r="2.3"/><circle cx="118.2" cy="65.6" r="2.3"/><circle cx="307.2" cy="35.2" r="2.3"/><circle cx="489.1" cy="103.1" r="2.3"/><circle cx="504.1" cy="110.6" r="2.3"/><circle cx="582.8" cy="96.2" r="2.3"/><circle cx="422.2" cy="87.6" r="2.3"/><circle cx="512.4" cy="92.4" r="2.3"/><circle cx="567.8" cy="100.7" r="2.3"/><circle cx="425.2" cy="79.2" r="2.3"/><circle cx="534.9" cy="94.4" r="2.3"/><circle cx="66.5" cy="38.0" r="2.3"/><circle cx="306.1" cy="42.7" r="2.3"/><circle cx="584.6" cy="80.4" r="2.3"/><circle cx="446.2" cy="92.6" r="2.3"/><circle cx="614.7" cy="99.3" r="2.3"/><circle cx="157.3" cy="43.2" r="2.3"/><circle cx="244.6" cy="85.0" r="2.3"/><circle cx="541.6" cy="98.2" r="2.3"/><circle cx="653.9" cy="85.3" r="2.3"/><circle cx="248.6" cy="64.8" r="2.3"/><circle cx="53.3" cy="32.3" r="2.3"/><circle cx="655.9" cy="86.8" r="2.3"/><circle cx="142.8" cy="74.3" r="2.3"/><circle cx="82.6" cy="28.9" r="2.3"/><circle cx="415.8" cy="87.9" r="2.3"/><circle cx="248.0" cy="73.5" r="2.3"/><circle cx="373.6" cy="61.0" r="2.3"/><circle cx="536.3" cy="95.6" r="2.3"/><circle cx="94.5" cy="94.1" r="2.3"/><circle cx="475.2" cy="87.6" r="2.3"/><circle cx="629.4" cy="83.9" r="2.3"/><circle cx="221.5" cy="88.8" r="2.3"/><circle cx="204.3" cy="90.8" r="2.3"/><circle cx="149.6" cy="56.3" r="2.3"/><circle cx="96.2" cy="94.3" r="2.3"/><circle cx="391.6" cy="65.7" r="2.3"/><circle cx="350.5" cy="59.2" r="2.3"/><circle cx="353.2" cy="61.1" r="2.3"/><circle cx="592.8" cy="87.6" r="2.3"/><circle cx="74.9" cy="93.3" r="2.3"/><circle cx="176.5" cy="50.0" r="2.3"/><circle cx="365.0" cy="56.1" r="2.3"/><circle cx="196.3" cy="81.7" r="2.3"/><circle cx="402.5" cy="79.7" r="2.3"/><circle cx="345.9" cy="52.7" r="2.3"/><circle cx="398.8" cy="76.2" r="2.3"/><circle cx="140.3" cy="79.9" r="2.3"/><circle cx="141.2" cy="81.2" r="2.3"/><circle cx="303.3" cy="28.8" r="2.3"/><circle cx="467.9" cy="95.3" r="2.3"/><circle cx="449.9" cy="85.6" r="2.3"/><circle cx="609.6" cy="83.7" r="2.3"/><circle cx="547.0" cy="92.3" r="2.3"/><circle cx="463.6" cy="92.2" r="2.3"/><circle cx="543.6" cy="97.9" r="2.3"/><circle cx="130.5" cy="97.2" r="2.3"/><circle cx="205.1" cy="93.7" r="2.3"/><circle cx="254.2" cy="62.5" r="2.3"/><circle cx="300.3" cy="31.8" r="2.3"/><circle cx="438.9" cy="90.6" r="2.3"/><circle cx="544.3" cy="96.6" r="2.3"/><circle cx="210.0" cy="100.2" r="2.3"/><circle cx="550.9" cy="96.5" r="2.3"/><circle cx="62.0" cy="70.4" r="2.3"/><circle cx="450.5" cy="106.4" r="2.3"/><circle cx="546.2" cy="104.2" r="2.3"/><circle cx="333.2" cy="45.5" r="2.3"/><circle cx="176.3" cy="51.7" r="2.3"/><circle cx="64.0" cy="51.6" r="2.3"/><circle cx="224.8" cy="105.0" r="2.3"/><circle cx="609.1" cy="91.2" r="2.3"/><circle cx="620.3" cy="83.6" r="2.3"/><circle cx="382.5" cy="58.6" r="2.3"/><circle cx="186.0" cy="69.1" r="2.3"/><circle cx="350.2" cy="44.0" r="2.3"/><circle cx="539.8" cy="96.0" r="2.3"/><circle cx="300.5" cy="36.7" r="2.3"/><circle cx="115.7" cy="44.3" r="2.3"/><circle cx="223.2" cy="99.4" r="2.3"/><circle cx="272.4" cy="47.2" r="2.3"/><circle cx="210.3" cy="91.8" r="2.3"/><circle cx="338.8" cy="52.0" r="2.3"/><circle cx="275.1" cy="47.1" r="2.3"/><circle cx="126.4" cy="95.4" r="2.3"/><circle cx="81.2" cy="39.1" r="2.3"/><circle cx="212.4" cy="95.0" r="2.3"/><circle cx="641.6" cy="80.6" r="2.3"/><circle cx="349.6" cy="60.1" r="2.3"/><circle cx="343.2" cy="48.9" r="2.3"/><circle cx="507.9" cy="103.3" r="2.3"/><circle cx="458.6" cy="93.9" r="2.3"/><circle cx="82.7" cy="29.4" r="2.3"/><circle cx="475.3" cy="99.1" r="2.3"/><circle cx="273.5" cy="41.8" r="2.3"/><circle cx="590.2" cy="96.0" r="2.3"/><circle cx="524.0" cy="100.2" r="2.3"/><circle cx="137.3" cy="90.4" r="2.3"/><circle cx="232.0" cy="91.0" r="2.3"/><circle cx="129.3" cy="105.3" r="2.3"/><circle cx="411.3" cy="73.9" r="2.3"/><circle cx="394.1" cy="72.4" r="2.3"/><circle cx="471.4" cy="99.2" r="2.3"/><circle cx="241.9" cy="88.4" r="2.3"/><circle cx="420.8" cy="73.4" r="2.3"/><circle cx="655.2" cy="62.2" r="2.3"/><circle cx="504.5" cy="96.3" r="2.3"/><circle cx="98.7" cy="83.0" r="2.3"/><circle cx="326.9" cy="35.2" r="2.3"/><circle cx="85.2" cy="47.8" r="2.3"/><circle cx="259.1" cy="60.0" r="2.3"/><circle cx="498.9" cy="107.9" r="2.3"/><circle cx="55.1" cy="52.0" r="2.3"/><circle cx="522.0" cy="93.6" r="2.3"/><circle cx="334.1" cy="47.2" r="2.3"/><circle cx="490.9" cy="98.5" r="2.3"/><circle cx="457.9" cy="94.5" r="2.3"/><circle cx="400.5" cy="88.5" r="2.3"/><circle cx="480.6" cy="91.5" r="2.3"/><circle cx="452.2" cy="101.5" r="2.3"/><circle cx="228.6" cy="91.3" r="2.3"/><circle cx="111.7" cy="40.4" r="2.3"/><circle cx="637.8" cy="86.4" r="2.3"/><circle cx="500.3" cy="88.7" r="2.3"/><circle cx="425.2" cy="89.7" r="2.3"/><circle cx="125.5" cy="90.7" r="2.3"/><circle cx="387.2" cy="80.6" r="2.3"/><circle cx="212.4" cy="102.4" r="2.3"/><circle cx="598.9" cy="97.4" r="2.3"/><circle cx="58.2" cy="91.3" r="2.3"/><circle cx="196.3" cy="91.4" r="2.3"/><circle cx="131.7" cy="95.6" r="2.3"/><circle cx="251.0" cy="67.2" r="2.3"/><circle cx="494.3" cy="106.0" r="2.3"/><circle cx="655.6" cy="87.3" r="2.3"/><circle cx="487.4" cy="91.7" r="2.3"/><circle cx="359.3" cy="52.2" r="2.3"/><circle cx="317.8" cy="27.6" r="2.3"/><circle cx="629.5" cy="86.3" r="2.3"/><circle cx="125.7" cy="95.5" r="2.3"/><circle cx="98.3" cy="94.7" r="2.3"/><circle cx="593.2" cy="88.7" r="2.3"/><circle cx="310.7" cy="26.8" r="2.3"/><circle cx="78.4" cy="61.6" r="2.3"/><circle cx="446.3" cy="84.8" r="2.3"/><circle cx="337.6" cy="42.3" r="2.3"/><circle cx="428.3" cy="94.2" r="2.3"/><circle cx="217.3" cy="98.0" r="2.3"/><circle cx="148.3" cy="54.8" r="2.3"/><circle cx="122.1" cy="67.6" r="2.3"/><circle cx="361.3" cy="55.8" r="2.3"/><circle cx="385.8" cy="68.0" r="2.3"/><circle cx="138.1" cy="94.3" r="2.3"/><circle cx="155.8" cy="52.2" r="2.3"/><circle cx="515.9" cy="89.7" r="2.3"/><circle cx="373.3" cy="73.3" r="2.3"/><circle cx="576.1" cy="98.8" r="2.3"/><circle cx="462.2" cy="90.7" r="2.3"/><circle cx="60.5" cy="97.3" r="2.3"/><circle cx="474.1" cy="99.3" r="2.3"/><circle cx="594.8" cy="98.0" r="2.3"/><circle cx="436.8" cy="85.7" r="2.3"/><circle cx="117.9" cy="51.8" r="2.3"/><circle cx="612.7" cy="86.0" r="2.3"/><circle cx="463.3" cy="92.0" r="2.3"/><circle cx="143.0" cy="75.4" r="2.3"/><circle cx="505.8" cy="93.7" r="2.3"/><circle cx="625.8" cy="98.6" r="2.3"/><circle cx="308.5" cy="38.8" r="2.3"/><circle cx="233.6" cy="84.6" r="2.3"/><circle cx="210.4" cy="93.0" r="2.3"/><circle cx="188.1" cy="80.0" r="2.3"/><circle cx="396.6" cy="78.7" r="2.3"/><circle cx="512.7" cy="104.0" r="2.3"/><circle cx="459.8" cy="87.8" r="2.3"/><circle cx="384.9" cy="62.7" r="2.3"/><circle cx="546.0" cy="91.3" r="2.3"/><circle cx="514.2" cy="104.9" r="2.3"/><circle cx="64.8" cy="36.3" r="2.3"/><circle cx="284.2" cy="33.7" r="2.3"/><circle cx="83.6" cy="37.0" r="2.3"/><circle cx="537.8" cy="100.0" r="2.3"/><circle cx="614.3" cy="94.9" r="2.3"/><circle cx="382.5" cy="73.3" r="2.3"/><circle cx="570.9" cy="89.4" r="2.3"/><circle cx="407.4" cy="82.7" r="2.3"/><circle cx="459.0" cy="92.6" r="2.3"/><circle cx="363.5" cy="52.0" r="2.3"/><circle cx="516.4" cy="94.0" r="2.3"/><circle cx="601.9" cy="81.8" r="2.3"/><circle cx="551.5" cy="105.8" r="2.3"/><circle cx="96.1" cy="98.5" r="2.3"/><circle cx="55.0" cy="45.5" r="2.3"/><circle cx="84.4" cy="36.6" r="2.3"/><circle cx="579.5" cy="99.8" r="2.3"/><circle cx="403.0" cy="73.5" r="2.3"/><circle cx="243.4" cy="72.8" r="2.3"/><circle cx="636.0" cy="83.7" r="2.3"/><circle cx="412.1" cy="78.8" r="2.3"/><circle cx="375.7" cy="66.6" r="2.3"/><circle cx="286.1" cy="34.4" r="2.3"/><circle cx="246.9" cy="66.9" r="2.3"/><circle cx="544.2" cy="97.1" r="2.3"/><circle cx="78.1" cy="58.6" r="2.3"/><circle cx="273.8" cy="44.2" r="2.3"/><circle cx="573.5" cy="89.4" r="2.3"/><circle cx="477.0" cy="99.8" r="2.3"/><circle cx="468.8" cy="85.9" r="2.3"/><circle cx="264.2" cy="53.2" r="2.3"/><circle cx="389.9" cy="67.6" r="2.3"/><circle cx="136.1" cy="95.6" r="2.3"/><circle cx="529.9" cy="98.7" r="2.3"/><circle cx="591.9" cy="86.6" r="2.3"/><circle cx="176.7" cy="60.4" r="2.3"/><circle cx="521.2" cy="94.5" r="2.3"/><circle cx="415.2" cy="80.6" r="2.3"/><circle cx="634.9" cy="101.7" r="2.3"/><circle cx="149.1" cy="58.0" r="2.3"/><circle cx="372.4" cy="77.3" r="2.3"/><circle cx="583.5" cy="88.3" r="2.3"/><circle cx="581.4" cy="95.3" r="2.3"/><circle cx="67.0" cy="47.7" r="2.3"/><circle cx="646.0" cy="83.9" r="2.3"/><circle cx="350.7" cy="45.0" r="2.3"/><circle cx="289.3" cy="42.8" r="2.3"/><circle cx="306.5" cy="34.3" r="2.3"/><circle cx="109.1" cy="36.8" r="2.3"/><circle cx="151.0" cy="62.1" r="2.3"/><circle cx="299.1" cy="47.9" r="2.3"/><circle cx="260.5" cy="68.6" r="2.3"/><circle cx="305.1" cy="34.2" r="2.3"/><circle cx="237.5" cy="81.5" r="2.3"/><circle cx="393.3" cy="63.1" r="2.3"/><circle cx="147.4" cy="61.8" r="2.3"/><circle cx="634.3" cy="80.5" r="2.3"/><circle cx="79.4" cy="45.3" r="2.3"/><circle cx="278.9" cy="46.0" r="2.3"/><circle cx="637.9" cy="82.0" r="2.3"/><circle cx="445.1" cy="86.2" r="2.3"/><circle cx="89.9" cy="69.0" r="2.3"/><circle cx="301.9" cy="32.8" r="2.3"/><circle cx="311.6" cy="35.8" r="2.3"/><circle cx="361.6" cy="64.0" r="2.3"/><circle cx="326.0" cy="37.9" r="2.3"/><circle cx="431.6" cy="85.1" r="2.3"/><circle cx="137.7" cy="88.3" r="2.3"/><circle cx="604.7" cy="87.1" r="2.3"/><circle cx="398.9" cy="77.8" r="2.3"/><circle cx="386.0" cy="71.4" r="2.3"/><circle cx="123.7" cy="75.1" r="2.3"/><circle cx="516.0" cy="96.5" r="2.3"/><circle cx="343.5" cy="54.7" r="2.3"/><circle cx="528.1" cy="98.9" r="2.3"/><circle cx="80.6" cy="52.2" r="2.3"/><circle cx="551.1" cy="101.4" r="2.3"/><circle cx="216.4" cy="98.0" r="2.3"/><circle cx="224.6" cy="104.0" r="2.3"/><circle cx="443.7" cy="101.3" r="2.3"/><circle cx="629.1" cy="79.7" r="2.3"/><circle cx="56.9" cy="80.3" r="2.3"/><circle cx="266.4" cy="62.5" r="2.3"/><circle cx="307.4" cy="38.4" r="2.3"/><circle cx="331.0" cy="36.2" r="2.3"/><circle cx="485.4" cy="92.9" r="2.3"/><circle cx="611.9" cy="86.0" r="2.3"/><circle cx="433.9" cy="81.6" r="2.3"/><circle cx="601.2" cy="94.7" r="2.3"/><circle cx="513.1" cy="93.2" r="2.3"/><circle cx="136.4" cy="98.0" r="2.3"/><circle cx="145.8" cy="70.1" r="2.3"/><circle cx="168.9" cy="26.5" r="2.3"/><circle cx="316.0" cy="33.4" r="2.3"/><circle cx="105.7" cy="45.3" r="2.3"/><circle cx="188.7" cy="80.5" r="2.3"/><circle cx="400.5" cy="82.0" r="2.3"/><circle cx="295.9" cy="24.0" r="2.3"/><circle cx="396.4" cy="82.2" r="2.3"/><circle cx="557.1" cy="93.8" r="2.3"/><circle cx="443.1" cy="85.6" r="2.3"/><circle cx="290.7" cy="32.5" r="2.3"/><circle cx="484.1" cy="90.3" r="2.3"/><circle cx="118.8" cy="59.4" r="2.3"/></g>
<path d="M52.90,40.00 L53.31,38.76 L53.71,38.29 L54.12,39.19 L54.52,41.87 L54.93,46.08 L55.33,51.49 L55.74,57.73 L56.14,64.40 L56.55,71.10 L56.95,77.46 L57.36,83.16 L57.77,87.92 L58.17,91.55 L58.58,93.92 L58.98,94.95 L59.39,94.95 L59.79,93.83 L60.20,91.50 L60.60,88.07 L61.01,83.71 L61.41,78.61 L61.82,73.00 L62.22,67.11 L62.63,61.18 L63.03,55.44 L63.44,50.10 L63.84,45.36 L64.25,41.37 L64.65,38.28 L65.06,36.17 L65.46,35.10 L65.87,35.44 L66.27,36.90 L66.68,39.28 L67.08,42.48 L67.49,46.38 L67.90,50.82 L68.30,55.67 L68.71,60.75 L69.11,65.93 L69.52,71.06 L69.92,76.00 L70.33,80.63 L70.73,84.84 L71.14,88.55 L71.54,91.68 L71.95,94.17 L72.35,96.00 L72.76,97.14 L73.16,97.59 L73.57,97.49 L73.97,96.80 L74.38,95.49 L74.78,93.61 L75.19,91.21 L75.59,88.35 L76.00,85.10 L76.40,81.53 L76.81,77.72 L77.21,73.75 L77.62,69.68 L78.03,65.60 L78.43,61.58 L78.84,57.68 L79.24,53.97 L79.65,50.51 L80.05,47.34 L80.46,44.52 L80.86,42.07 L81.27,40.02 L81.67,38.40 L82.08,37.23 L82.48,36.50 L82.89,36.22 L83.29,36.53 L83.70,37.28 L84.10,38.42 L84.51,39.93 L84.91,41.78 L85.32,43.93 L85.72,46.35 L86.13,48.99 L86.53,51.81 L86.94,54.78 L87.34,57.85 L87.75,60.98 L88.16,64.14 L88.56,67.29 L88.97,70.39 L89.37,73.40 L89.78,76.31 L90.18,79.08 L90.59,81.69 L90.99,84.10 L91.40,86.32 L91.80,88.31 L92.21,90.08 L92.61,91.59 L93.02,92.86 L93.42,93.87 L93.83,94.63 L94.23,95.13 L94.64,95.39 L95.04,95.39 L95.45,95.31 L95.85,95.01 L96.26,94.47 L96.66,93.72 L97.07,92.76 L97.47,91.61 L97.88,90.27 L98.29,88.77 L98.69,87.11 L99.10,85.32 L99.50,83.40 L99.91,81.38 L100.31,79.26 L100.72,77.08 L101.12,74.84 L101.53,72.55 L101.93,70.25 L102.34,67.94 L102.74,65.63 L103.15,63.34 L103.55,61.09 L103.96,58.89 L104.36,56.76 L104.77,54.69 L105.17,52.71 L105.58,50.83 L105.98,49.05 L106.39,47.38 L106.79,45.83 L107.20,44.41 L107.60,43.12 L108.01,41.96 L108.42,40.95 L108.82,40.08 L109.23,39.35 L109.63,38.77 L110.04,38.34 L110.44,38.05 L110.85,37.91 L111.25,37.91 L111.66,38.05 L112.06,38.33 L112.47,38.74 L112.87,39.28 L113.28,39.95 L113.68,40.74 L114.09,41.64 L114.49,42.65 L114.90,43.76 L115.30,44.97 L115.71,46.27 L116.11,47.65 L116.52,49.11 L116.92,50.64 L117.33,52.22 L117.73,53.86 L118.14,55.55 L118.55,57.28 L118.95,59.04 L119.36,60.83 L119.76,62.63 L120.17,64.45 L120.57,66.27 L120.98,68.09 L121.38,69.90 L121.79,71.70 L122.19,73.47 L122.60,75.22 L123.00,76.94 L123.41,78.63 L123.81,80.27 L124.22,81.87 L124.62,83.41 L125.03,84.90 L125.43,86.34 L125.84,87.71 L126.24,89.01 L126.65,90.25 L127.05,91.42 L127.46,92.52 L127.86,93.54 L128.27,94.48 L128.68,95.35 L129.08,96.14 L129.49,96.84 L129.89,97.47 L130.30,98.01 L130.70,98.47 L131.11,98.85 L131.51,99.15 L131.92,99.36 L132.32,99.50 L132.73,99.53 L133.13,99.43 L133.54,99.26 L133.94,99.01 L134.35,98.69 L134.75,98.30 L135.16,97.84 L135.56,97.32 L135.97,96.73 L136.37,96.07 L136.78,95.36 L137.18,94.60 L137.59,93.78 L137.99,92.91 L138.40,91.99 L138.81,91.03 L139.21,90.02 L139.62,88.98 L140.02,87.90 L140.43,86.78 L140.83,85.64 L141.24,84.47 L141.64,83.27 L142.05,82.05 L142.45,80.82 L142.86,79.56 L143.26,78.30 L143.67,77.02 L144.07,75.73 L144.48,74.44 L144.88,73.14 L145.29,71.84 L145.69,70.55 L146.10,69.26 L146.50,67.97 L146.91,66.69 L147.31,65.42 L147.72,64.17 L148.12,62.93 L148.53,61.70 L148.94,60.49 L149.34,59.31 L149.75,58.14 L150.15,56.99 L150.56,55.87 L150.96,54.78 L151.37,53.71 L151.77,52.67 L152.18,51.66 L152.58,50.68 L152.99,49.73 L153.39,48.81 L153.80,47.92 L154.20,47.07 L154.61,46.25 L155.01,45.47 L155.42,44.72 L155.82,44.01 L156.23,43.33 L156.63,42.70 L157.04,42.09 L157.44,41.53 L157.85,41.00 L158.25,40.51 L158.66,40.06 L159.07,39.65 L159.47,39.27 L159.88,38.93 L160.28,38.62 L160.69,38.36 L161.09,38.13 L161.50,37.93 L161.90,37.78 L162.31,37.65 L162.71,37.57 L163.12,37.52 L163.52,37.50 L163.93,37.51 L164.33,37.54 L164.74,37.60 L165.14,37.69 L165.55,37.81 L165.95,37.97 L166.36,38.15 L166.76,38.37 L167.17,38.61 L167.57,38.89 L167.98,39.19 L168.38,39.52 L168.79,39.87 L169.20,40.25 L169.60,40.65 L170.01,41.08 L170.41,41.53 L170.82,42.01 L171.22,42.50 L171.63,43.02 L172.03,43.56 L172.44,44.11 L172.84,44.69 L173.25,45.28 L173.65,45.89 L174.06,46.52 L174.46,47.16 L174.87,47.81 L175.27,48.48 L175.68,49.17 L176.08,49.86 L176.49,50.57 L176.89,51.29 L177.30,52.02 L177.70,52.75 L178.11,53.50 L178.51,54.25 L178.92,55.01 L179.33,55.78 L179.73,56.55 L180.14,57.33 L180.54,58.11 L180.95,58.90 L181.35,59.68 L181.76,60.47 L182.16,61.27 L182.57,62.06 L182.97,62.85 L183.38,63.64 L183.78,64.44 L184.19,65.23 L184.59,66.02 L185.00,66.80 L185.40,67.58 L185.81,68.36 L186.21,69.14 L186.62,69.91 L187.02,70.67 L187.43,71.43 L187.83,72.19 L188.24,72.94 L188.64,73.68 L189.05,74.41 L189.46,75.13 L189.86,75.85 L190.27,76.56 L190.67,77.26 L191.08,77.95 L191.48,78.63 L191.89,79.30 L192.29,79.97 L192.70,80.62 L193.10,81.26 L193.51,81.89 L193.91,82.51 L194.32,83.11 L194.72,83.71 L195.13,84.29 L195.53,84.86 L195.94,85.42 L196.34,85.97 L196.75,86.50 L197.15,87.02 L197.56,87.53 L197.96,88.03 L198.37,88.51 L198.77,88.98 L199.18,89.43 L199.59,89.88 L199.99,90.30 L200.40,90.72 L200.80,91.12 L201.21,91.51 L201.61,91.88 L202.02,92.24 L202.42,92.59 L202.83,92.92 L203.23,93.24 L203.64,93.54 L204.04,93.83 L204.45,94.11 L204.85,94.37 L205.26,94.62 L205.66,94.86 L206.07,95.08 L206.47,95.29 L206.88,95.48 L207.28,95.67 L207.69,95.83 L208.09,95.99 L208.50,96.13 L208.90,96.26 L209.31,96.37 L209.72,96.47 L210.12,96.56 L210.53,96.64 L210.93,96.70 L211.34,96.75 L211.74,96.79 L212.15,96.82 L212.55,96.83 L212.96,96.84 L213.36,96.84 L213.77,96.83 L214.17,96.80 L214.58,96.77 L214.98,96.72 L215.39,96.67 L215.79,96.60 L216.20,96.52 L216.60,96.43 L217.01,96.33 L217.41,96.22 L217.82,96.10 L218.22,95.97 L218.63,95.83 L219.03,95.68 L219.44,95.52 L219.85,95.35 L220.25,95.17 L220.66,94.98 L221.06,94.78 L221.47,94.58 L221.87,94.36 L222.28,94.13 L222.68,93.90 L223.09,93.66 L223.49,93.41 L223.90,93.15 L224.30,92.89 L224.71,92.62 L225.11,92.34 L225.52,92.05 L225.92,91.76 L226.33,91.45 L226.73,91.15 L227.14,90.83 L227.54,90.51 L227.95,90.18 L228.35,89.85 L228.76,89.51 L229.17,89.17 L229.57,88.82 L229.98,88.46 L230.38,88.10 L230.79,87.73 L231.19,87.36 L231.60,86.99 L232.00,86.61 L232.41,86.22 L232.81,85.83 L233.22,85.44 L233.62,85.04 L234.03,84.64 L234.43,84.24 L234.84,83.83 L235.24,83.42 L235.65,83.01 L236.05,82.59 L236.46,82.18 L236.86,81.76 L237.27,81.34 L237.67,80.92 L238.08,80.50 L238.48,80.08 L238.89,79.66 L239.30,79.23 L239.70,78.81 L240.11,78.38 L240.51,77.95 L240.92,77.53 L241.32,77.10 L241.73,76.67 L242.13,76.24 L242.54,75.81 L242.94,75.38 L243.35,74.95 L243.75,74.52 L244.16,74.09 L244.56,73.66 L244.97,73.24 L245.37,72.80 L245.78,72.35 L246.18,71.91 L246.59,71.47 L246.99,71.03 L247.40,70.59 L247.80,70.14 L248.21,69.70 L248.61,69.26 L249.02,68.82 L249.43,68.39 L249.83,67.95 L250.24,67.51 L250.64,67.08 L251.05,66.64 L251.45,66.21 L251.86,65.78 L252.26,65.34 L252.67,64.92 L253.07,64.49 L253.48,64.06 L253.88,63.64 L254.29,63.22 L254.69,62.80 L255.10,62.38 L255.50,61.96 L255.91,61.55 L256.31,61.13 L256.72,60.72 L257.12,60.32 L257.53,59.91 L257.93,59.51 L258.34,59.11 L258.74,58.71 L259.15,58.32 L259.56,57.92 L259.96,57.53 L260.37,57.15 L260.77,56.76 L261.18,56.38 L261.58,56.00 L261.99,55.63 L262.39,55.26 L262.80,54.89 L263.20,54.52 L263.61,54.16 L264.01,53.80 L264.42,53.44 L264.82,53.09 L265.23,52.74 L265.63,52.39 L266.04,52.05 L266.44,51.71 L266.85,51.37 L267.25,51.04 L267.66,50.71 L268.06,50.39 L268.47,50.06 L268.87,49.75 L269.28,49.43 L269.69,49.12 L270.09,48.81 L270.50,48.51 L270.90,48.21 L271.31,47.91 L271.71,47.62 L272.12,47.33 L272.52,47.05 L272.93,46.77 L273.33,46.49 L273.74,46.21 L274.14,45.95 L274.55,45.68 L274.95,45.42 L275.36,45.16 L275.76,44.91 L276.17,44.66 L276.57,44.41 L276.98,44.17 L277.38,43.93 L277.79,43.69 L278.19,43.46 L278.60,43.24 L279.00,43.01 L279.41,42.80 L279.82,42.58 L280.22,42.37 L280.63,42.16 L281.03,41.96 L281.44,41.76 L281.84,41.57 L282.25,41.37 L282.65,41.19 L283.06,41.00 L283.46,40.83 L283.87,40.65 L284.27,40.48 L284.68,40.31 L285.08,40.15 L285.49,39.99 L285.89,39.83 L286.30,39.68 L286.70,39.53 L287.11,39.39 L287.51,39.25 L287.92,39.11 L288.32,38.98 L288.73,38.85 L289.13,38.72 L289.54,38.60 L289.95,38.48 L290.35,38.37 L290.76,38.26 L291.16,38.15 L291.57,38.05 L291.97,37.95 L292.38,37.86 L292.78,37.76 L293.19,37.68 L293.59,37.59 L294.00,37.51 L294.40,37.43 L294.81,37.36 L295.21,37.29 L295.62,37.23 L296.02,37.16 L296.43,37.10 L296.83,37.05 L297.24,36.99 L297.64,36.95 L298.05,36.90 L298.45,36.86 L298.86,36.82 L299.26,36.78 L299.67,36.75 L300.08,36.72 L300.48,36.70 L300.89,36.68 L301.29,36.66 L301.70,36.65 L302.10,36.64 L302.51,36.64 L302.91,36.65 L303.32,36.65 L303.72,36.66 L304.13,36.67 L304.53,36.69 L304.94,36.71 L305.34,36.73 L305.75,36.75 L306.15,36.78 L306.56,36.81 L306.96,36.85 L307.37,36.88 L307.77,36.92 L308.18,36.96 L308.58,37.01 L308.99,37.06 L309.39,37.11 L309.80,37.16 L310.21,37.22 L310.61,37.27 L311.02,37.34 L311.42,37.40 L311.83,37.47 L312.23,37.54 L312.64,37.61 L313.04,37.68 L313.45,37.76 L313.85,37.84 L314.26,37.92 L314.66,38.00 L315.07,38.09 L315.47,38.18 L315.88,38.27 L316.28,38.36 L316.69,38.46 L317.09,38.56 L317.50,38.66 L317.90,38.76 L318.31,38.87 L318.71,38.97 L319.12,39.08 L319.52,39.20 L319.93,39.31 L320.34,39.43 L320.74,39.54 L321.15,39.66 L321.55,39.78 L321.96,39.91 L322.36,40.03 L322.77,40.16 L323.17,40.29 L323.58,40.42 L323.98,40.56 L324.39,40.69 L324.79,40.83 L325.20,40.97 L325.60,41.11 L326.01,41.25 L326.41,41.39 L326.82,41.54 L327.22,41.69 L327.63,41.84 L328.03,41.99 L328.44,42.14 L328.84,42.29 L329.25,42.45 L329.65,42.60 L330.06,42.76 L330.47,42.92 L330.87,43.08 L331.28,43.25 L331.68,43.41 L332.09,43.57 L332.49,43.74 L332.90,43.91 L333.30,44.08 L333.71,44.25 L334.11,44.42 L334.52,44.59 L334.92,44.77 L335.33,44.94 L335.73,45.12 L336.14,45.30 L336.54,45.47 L336.95,45.65 L337.35,45.83 L337.76,46.02 L338.16,46.20 L338.57,46.38 L338.97,46.57 L339.38,46.75 L339.78,46.94 L340.19,47.13 L340.60,47.32 L341.00,47.50 L341.41,47.69 L341.81,47.89 L342.22,48.08 L342.62,48.27 L343.03,48.46 L343.43,48.66 L343.84,48.85 L344.24,49.05 L344.65,49.24 L345.05,49.44 L345.46,49.64 L345.86,49.84 L346.27,50.03 L346.67,50.23 L347.08,50.43 L347.48,50.63 L347.89,50.84 L348.29,51.04 L348.70,51.24 L349.10,51.44 L349.51,51.65 L349.91,51.85 L350.32,52.05 L350.73,52.26 L351.13,52.46 L351.54,52.67 L351.94,52.87 L352.35,53.08 L352.75,53.28 L353.16,53.49 L353.56,53.70 L353.97,53.91 L354.37,54.11 L354.78,54.32 L355.18,54.53 L355.59,54.74 L355.99,54.95 L356.40,55.15 L356.80,55.36 L357.21,55.57 L357.61,55.78 L358.02,55.99 L358.42,56.20 L358.83,56.41 L359.23,56.62 L359.64,56.83 L360.04,57.04 L360.45,57.25 L360.86,57.46 L361.26,57.67 L361.67,57.88 L362.07,58.09 L362.48,58.30 L362.88,58.51 L363.29,58.72 L363.69,58.93 L364.10,59.14 L364.50,59.35 L364.91,59.56 L365.31,59.77 L365.72,59.98 L366.12,60.19 L366.53,60.40 L366.93,60.61 L367.34,60.82 L367.74,61.03 L368.15,61.24 L368.55,61.44 L368.96,61.65 L369.36,61.86 L369.77,62.07 L370.17,62.28 L370.58,62.48 L370.99,62.69 L371.39,62.90 L371.80,63.11 L372.20,63.31 L372.61,63.52 L373.01,63.73 L373.42,63.93 L373.82,64.14 L374.23,64.34 L374.63,64.55 L375.04,64.75 L375.44,64.96 L375.85,65.16 L376.25,65.36 L376.66,65.57 L377.06,65.77 L377.47,65.97 L377.87,66.18 L378.28,66.38 L378.68,66.58 L379.09,66.78 L379.49,66.98 L379.90,67.18 L380.30,67.38 L380.71,67.58 L381.12,67.78 L381.52,67.98 L381.93,68.17 L382.33,68.37 L382.74,68.57 L383.14,68.77 L383.55,68.96 L383.95,69.16 L384.36,69.35 L384.76,69.55 L385.17,69.74 L385.57,69.93 L385.98,70.13 L386.38,70.32 L386.79,70.51 L387.19,70.70 L387.60,70.89 L388.00,71.09 L388.41,71.28 L388.81,71.46 L389.22,71.65 L389.62,71.84 L390.03,72.03 L390.43,72.22 L390.84,72.40 L391.25,72.59 L391.65,72.77 L392.06,72.96 L392.46,73.14 L392.87,73.32 L393.27,73.51 L393.68,73.69 L394.08,73.87 L394.49,74.05 L394.89,74.23 L395.30,74.41 L395.70,74.59 L396.11,74.77 L396.51,74.95 L396.92,75.12 L397.32,75.30 L397.73,75.48 L398.13,75.65 L398.54,75.83 L398.94,76.00 L399.35,76.17 L399.75,76.35 L400.16,76.52 L400.56,76.69 L400.97,76.86 L401.38,77.03 L401.78,77.20 L402.19,77.37 L402.59,77.53 L403.00,77.70 L403.40,77.87 L403.81,78.03 L404.21,78.20 L404.62,78.36 L405.02,78.53 L405.43,78.69 L405.83,78.85 L406.24,79.01 L406.64,79.17 L407.05,79.33 L407.45,79.49 L407.86,79.65 L408.26,79.81 L408.67,79.96 L409.07,80.12 L409.48,80.28 L409.88,80.43 L410.29,80.59 L410.69,80.74 L411.10,80.89 L411.51,81.04 L411.91,81.19 L412.32,81.34 L412.72,81.49 L413.13,81.64 L413.53,81.79 L413.94,81.94 L414.34,82.09 L414.75,82.23 L415.15,82.38 L415.56,82.52 L415.96,82.66 L416.37,82.81 L416.77,82.95 L417.18,83.09 L417.58,83.23 L417.99,83.37 L418.39,83.51 L418.80,83.65 L419.20,83.79 L419.61,83.92 L420.01,84.06 L420.42,84.20 L420.82,84.33 L421.23,84.46 L421.64,84.60 L422.04,84.73 L422.45,84.86 L422.85,84.99 L423.26,85.12 L423.66,85.25 L424.07,85.38 L424.47,85.51 L424.88,85.63 L425.28,85.76 L425.69,85.89 L426.09,86.01 L426.50,86.13 L426.90,86.26 L427.31,86.38 L427.71,86.50 L428.12,86.62 L428.52,86.74 L428.93,86.86 L429.33,86.98 L429.74,87.10 L430.14,87.22 L430.55,87.33 L430.95,87.45 L431.36,87.56 L431.77,87.68 L432.17,87.79 L432.58,87.90 L432.98,88.01 L433.39,88.13 L433.79,88.24 L434.20,88.34 L434.60,88.45 L435.01,88.56 L435.41,88.67 L435.82,88.78 L436.22,88.88 L436.63,88.99 L437.03,89.09 L437.44,89.19 L437.84,89.30 L438.25,89.40 L438.65,89.50 L439.06,89.60 L439.46,89.70 L439.87,89.80 L440.27,89.90 L440.68,89.99 L441.08,90.09 L441.49,90.19 L441.90,90.28 L442.30,90.38 L442.71,90.47 L443.11,90.56 L443.52,90.66 L443.92,90.75 L444.33,90.84 L444.73,90.93 L445.14,91.02 L445.54,91.11 L445.95,91.19 L446.35,91.28 L446.76,91.37 L447.16,91.45 L447.57,91.54 L447.97,91.62 L448.38,91.71 L448.78,91.79 L449.19,91.87 L449.59,91.95 L450.00,92.03 L450.40,92.11 L450.81,92.19 L451.21,92.27 L451.62,92.35 L452.03,92.43 L452.43,92.50 L452.84,92.58 L453.24,92.65 L453.65,92.73 L454.05,92.80 L454.46,92.87 L454.86,92.95 L455.27,93.02 L455.67,93.09 L456.08,93.16 L456.48,93.23 L456.89,93.30 L457.29,93.37 L457.70,93.43 L458.10,93.50 L458.51,93.57 L458.91,93.63 L459.32,93.70 L459.72,93.76 L460.13,93.82 L460.53,93.89 L460.94,93.95 L461.34,94.01 L461.75,94.07 L462.16,94.13 L462.56,94.19 L462.97,94.25 L463.37,94.31 L463.78,94.36 L464.18,94.42 L464.59,94.48 L464.99,94.53 L465.40,94.59 L465.80,94.64 L466.21,94.70 L466.61,94.75 L467.02,94.80 L467.42,94.85 L467.83,94.91 L468.23,94.96 L468.64,95.01 L469.04,95.06 L469.45,95.10 L469.85,95.15 L470.26,95.20 L470.66,95.25 L471.07,95.29 L471.47,95.34 L471.88,95.38 L472.29,95.43 L472.69,95.47 L473.10,95.52 L473.50,95.56 L473.91,95.60 L474.31,95.64 L474.72,95.68 L475.12,95.72 L475.53,95.76 L475.93,95.80 L476.34,95.84 L476.74,95.88 L477.15,95.92 L477.55,95.95 L477.96,95.99 L478.36,96.02 L478.77,96.06 L479.17,96.09 L479.58,96.13 L479.98,96.16 L480.39,96.19 L480.79,96.23 L481.20,96.26 L481.60,96.29 L482.01,96.32 L482.42,96.35 L482.82,96.38 L483.23,96.41 L483.63,96.44 L484.04,96.47 L484.44,96.49 L484.85,96.52 L485.25,96.55 L485.66,96.57 L486.06,96.60 L486.47,96.62 L486.87,96.65 L487.28,96.67 L487.68,96.69 L488.09,96.72 L488.49,96.74 L488.90,96.76 L489.30,96.78 L489.71,96.80 L490.11,96.82 L490.52,96.84 L490.92,96.86 L491.33,96.88 L491.73,96.90 L492.14,96.92 L492.55,96.93 L492.95,96.95 L493.36,96.97 L493.76,96.98 L494.17,97.00 L494.57,97.01 L494.98,97.03 L495.38,97.04 L495.79,97.06 L496.19,97.07 L496.60,97.08 L497.00,97.09 L497.41,97.10 L497.81,97.12 L498.22,97.13 L498.62,97.14 L499.03,97.15 L499.43,97.16 L499.84,97.16 L500.24,97.17 L500.65,97.18 L501.05,97.19 L501.46,97.20 L501.86,97.20 L502.27,97.21 L502.68,97.21 L503.08,97.22 L503.49,97.22 L503.89,97.23 L504.30,97.23 L504.70,97.24 L505.11,97.24 L505.51,97.24 L505.92,97.24 L506.32,97.25 L506.73,97.25 L507.13,97.25 L507.54,97.25 L507.94,97.25 L508.35,97.25 L508.75,97.25 L509.16,97.26 L509.56,97.26 L509.97,97.26 L510.37,97.26 L510.78,97.26 L511.18,97.26 L511.59,97.26 L511.99,97.26 L512.40,97.26 L512.81,97.26 L513.21,97.26 L513.62,97.25 L514.02,97.25 L514.43,97.25 L514.83,97.24 L515.24,97.24 L515.64,97.24 L516.05,97.23 L516.45,97.23 L516.86,97.22 L517.26,97.22 L517.67,97.21 L518.07,97.20 L518.48,97.20 L518.88,97.19 L519.29,97.18 L519.69,97.17 L520.10,97.17 L520.50,97.16 L520.91,97.15 L521.31,97.14 L521.72,97.13 L522.12,97.12 L522.53,97.11 L522.94,97.10 L523.34,97.09 L523.75,97.08 L524.15,97.07 L524.56,97.05 L524.96,97.04 L525.37,97.03 L525.77,97.02 L526.18,97.00 L526.58,96.99 L526.99,96.98 L527.39,96.96 L527.80,96.95 L528.20,96.93 L528.61,96.92 L529.01,96.90 L529.42,96.89 L529.82,96.87 L530.23,96.85 L530.63,96.84 L531.04,96.82 L531.44,96.80 L531.85,96.79 L532.25,96.77 L532.66,96.75 L533.07,96.73 L533.47,96.71 L533.88,96.69 L534.28,96.68 L534.69,96.66 L535.09,96.64 L535.50,96.62 L535.90,96.60 L536.31,96.57 L536.71,96.55 L537.12,96.53 L537.52,96.51 L537.93,96.49 L538.33,96.47 L538.74,96.45 L539.14,96.42 L539.55,96.40 L539.95,96.38 L540.36,96.35 L540.76,96.33 L541.17,96.31 L541.57,96.28 L541.98,96.26 L542.38,96.23 L542.79,96.21 L543.20,96.18 L543.60,96.16 L544.01,96.13 L544.41,96.11 L544.82,96.08 L545.22,96.05 L545.63,96.03 L546.03,96.00 L546.44,95.97 L546.84,95.94 L547.25,95.92 L547.65,95.89 L548.06,95.86 L548.46,95.83 L548.87,95.80 L549.27,95.78 L549.68,95.75 L550.08,95.72 L550.49,95.69 L550.89,95.66 L551.30,95.63 L551.70,95.60 L552.11,95.57 L552.51,95.54 L552.92,95.51 L553.33,95.48 L553.73,95.44 L554.14,95.41 L554.54,95.38 L554.95,95.35 L555.35,95.32 L555.76,95.29 L556.16,95.25 L556.57,95.22 L556.97,95.19 L557.38,95.15 L557.78,95.12 L558.19,95.09 L558.59,95.05 L559.00,95.02 L559.40,94.99 L559.81,94.95 L560.21,94.92 L560.62,94.88 L561.02,94.85 L561.43,94.81 L561.83,94.78 L562.24,94.74 L562.64,94.71 L563.05,94.67 L563.46,94.64 L563.86,94.60 L564.27,94.56 L564.67,94.53 L565.08,94.49 L565.48,94.45 L565.89,94.42 L566.29,94.38 L566.70,94.34 L567.10,94.31 L567.51,94.27 L567.91,94.23 L568.32,94.19 L568.72,94.15 L569.13,94.12 L569.53,94.08 L569.94,94.04 L570.34,94.00 L570.75,93.96 L571.15,93.92 L571.56,93.88 L571.96,93.84 L572.37,93.80 L572.77,93.76 L573.18,93.72 L573.59,93.68 L573.99,93.64 L574.40,93.60 L574.80,93.56 L575.21,93.52 L575.61,93.48 L576.02,93.44 L576.42,93.40 L576.83,93.36 L577.23,93.32 L577.64,93.28 L578.04,93.24 L578.45,93.19 L578.85,93.15 L579.26,93.11 L579.66,93.07 L580.07,93.03 L580.47,92.98 L580.88,92.94 L581.28,92.90 L581.69,92.85 L582.09,92.81 L582.50,92.77 L582.90,92.72 L583.31,92.68 L583.72,92.64 L584.12,92.59 L584.53,92.55 L584.93,92.51 L585.34,92.46 L585.74,92.42 L586.15,92.37 L586.55,92.33 L586.96,92.28 L587.36,92.24 L587.77,92.19 L588.17,92.15 L588.58,92.10 L588.98,92.06 L589.39,92.01 L589.79,91.97 L590.20,91.92 L590.60,91.87 L591.01,91.83 L591.41,91.78 L591.82,91.73 L592.22,91.69 L592.63,91.64 L593.03,91.59 L593.44,91.55 L593.85,91.50 L594.25,91.45 L594.66,91.40 L595.06,91.36 L595.47,91.31 L595.87,91.26 L596.28,91.21 L596.68,91.17 L597.09,91.12 L597.49,91.07 L597.90,91.02 L598.30,90.97 L598.71,90.92 L599.11,90.87 L599.52,90.82 L599.92,90.77 L600.33,90.73 L600.73,90.68 L601.14,90.63 L601.54,90.58 L601.95,90.53 L602.35,90.48 L602.76,90.43 L603.16,90.38 L603.57,90.33 L603.98,90.27 L604.38,90.22 L604.79,90.17 L605.19,90.12 L605.60,90.07 L606.00,90.02 L606.41,89.97 L606.81,89.92 L607.22,89.87 L607.62,89.81 L608.03,89.76 L608.43,89.71 L608.84,89.66 L609.24,89.60 L609.65,89.55 L610.05,89.50 L610.46,89.45 L610.86,89.39 L611.27,89.34 L611.67,89.29 L612.08,89.23 L612.48,89.18 L612.89,89.13 L613.29,89.07 L613.70,89.02 L614.11,88.97 L614.51,88.91 L614.92,88.86 L615.32,88.80 L615.73,88.75 L616.13,88.69 L616.54,88.64 L616.94,88.58 L617.35,88.53 L617.75,88.47 L618.16,88.42 L618.56,88.36 L618.97,88.31 L619.37,88.25 L619.78,88.20 L620.18,88.14 L620.59,88.08 L620.99,88.03 L621.40,87.97 L621.80,87.92 L622.21,87.86 L622.61,87.80 L623.02,87.74 L623.42,87.69 L623.83,87.63 L624.24,87.57 L624.64,87.52 L625.05,87.46 L625.45,87.40 L625.86,87.34 L626.26,87.28 L626.67,87.23 L627.07,87.17 L627.48,87.11 L627.88,87.05 L628.29,86.99 L628.69,86.93 L629.10,86.88 L629.50,86.82 L629.91,86.76 L630.31,86.70 L630.72,86.64 L631.12,86.58 L631.53,86.52 L631.93,86.46 L632.34,86.40 L632.74,86.34 L633.15,86.28 L633.55,86.22 L633.96,86.16 L634.37,86.10 L634.77,86.04 L635.18,85.97 L635.58,85.91 L635.99,85.85 L636.39,85.79 L636.80,85.73 L637.20,85.67 L637.61,85.61 L638.01,85.54 L638.42,85.48 L638.82,85.42 L639.23,85.36 L639.63,85.29 L640.04,85.23 L640.44,85.17 L640.85,85.11 L641.25,85.04 L641.66,84.98 L642.06,84.92 L642.47,84.85 L642.87,84.79 L643.28,84.73 L643.68,84.66 L644.09,84.60 L644.50,84.53 L644.90,84.47 L645.31,84.40 L645.71,84.34 L646.12,84.28 L646.52,84.21 L646.93,84.15 L647.33,84.08 L647.74,84.02 L648.14,83.95 L648.55,83.88 L648.95,83.82 L649.36,83.75 L649.76,83.69 L650.17,83.62 L650.57,83.55 L650.98,83.49 L651.38,83.42 L651.79,83.35 L652.19,83.29 L652.60,83.22 L653.00,83.15 L653.41,83.08 L653.81,83.02 L654.22,82.95 L654.63,82.88 L655.03,82.81 L655.44,82.75 L655.84,82.68 L656.25,82.61 L656.65,82.54 L657.06,82.47 L657.46,82.40 L657.87,82.33 L658.27,82.26 L658.68,82.20 L659.08,82.13 L659.49,82.06 L659.89,81.99 L660.30,81.92" fill="none" stroke="#1e48a0" stroke-width="2.3" stroke-linejoin="round" stroke-linecap="round"/>
<path d="M684.45,177.32 H28.6 V277.23 H684.45" fill="none" stroke="#141414" stroke-width="1.05" stroke-linejoin="round" stroke-linecap="square"/>
<line x1="684.45" y1="177.32" x2="684.45" y2="277.23" stroke="#2a2a2a" stroke-width="1.0"/>
<text x="356.60" y="169.90" font-size="12.5" text-anchor="middle" font-weight="bold" fill="#111">Local penalty weights</text>
<line x1="46.64" y1="277.23" x2="46.64" y2="283.53" stroke="#141414" stroke-width="1.05"/>
<text x="46.64" y="292.80" font-size="10" text-anchor="middle" fill="#1a1a1a">0</text>
<line x1="203.19" y1="277.23" x2="203.19" y2="283.53" stroke="#141414" stroke-width="1.05"/>
<text x="203.19" y="292.80" font-size="10" text-anchor="middle" fill="#1a1a1a">50</text>
<line x1="359.73" y1="277.23" x2="359.73" y2="283.53" stroke="#141414" stroke-width="1.05"/>
<text x="359.73" y="292.80" font-size="10" text-anchor="middle" fill="#1a1a1a">100</text>
<line x1="516.27" y1="277.23" x2="516.27" y2="283.53" stroke="#141414" stroke-width="1.05"/>
<text x="516.27" y="292.80" font-size="10" text-anchor="middle" fill="#1a1a1a">150</text>
<line x1="672.82" y1="277.23" x2="672.82" y2="283.53" stroke="#141414" stroke-width="1.05"/>
<text x="672.82" y="292.80" font-size="10" text-anchor="middle" fill="#1a1a1a">200</text>
<text x="356.60" y="305.10" font-size="10" text-anchor="middle" fill="#1a1a1a">2:(n − 1)</text>
<line x1="28.60" y1="273.50" x2="22.30" y2="273.50" stroke="#141414" stroke-width="1.05"/>
<text transform="translate(21.30,273.50) rotate(-90)" font-size="10" text-anchor="middle" fill="#1a1a1a">0.0</text>
<line x1="28.60" y1="254.98" x2="22.30" y2="254.98" stroke="#141414" stroke-width="1.05"/>
<line x1="28.60" y1="236.46" x2="22.30" y2="236.46" stroke="#141414" stroke-width="1.05"/>
<text transform="translate(21.30,236.46) rotate(-90)" font-size="10" text-anchor="middle" fill="#1a1a1a">0.4</text>
<line x1="28.60" y1="217.94" x2="22.30" y2="217.94" stroke="#141414" stroke-width="1.05"/>
<line x1="28.60" y1="199.42" x2="22.30" y2="199.42" stroke="#141414" stroke-width="1.05"/>
<text transform="translate(21.30,199.42) rotate(-90)" font-size="10" text-anchor="middle" fill="#1a1a1a">0.8</text>
<line x1="28.60" y1="180.90" x2="22.30" y2="180.90" stroke="#141414" stroke-width="1.05"/>
<text transform="translate(8.60,227.28) rotate(-90)" font-size="10" text-anchor="middle" fill="#1a1a1a">C.ad</text>
<path d="M52.90,180.90 L56.03,185.20 L59.16,189.49 L62.29,193.79 L65.43,198.08 L68.56,202.38 L71.69,206.68 L74.82,210.97 L77.95,215.27 L81.08,219.56 L84.21,223.86 L87.34,228.15 L90.47,232.45 L93.60,236.75 L96.73,241.04 L99.87,245.34 L103.00,249.63 L106.13,253.93 L109.26,258.23 L112.39,262.52 L115.52,266.82 L118.65,271.11 L121.78,273.50 L124.91,273.50 L128.04,273.50 L131.17,273.50 L134.31,273.50 L137.44,273.50 L140.57,273.50 L143.70,273.50 L146.83,273.50 L149.96,273.50 L153.09,273.50 L156.22,273.50 L159.35,273.50 L162.48,273.50 L165.61,273.50 L168.75,273.50 L171.88,273.50 L175.01,273.50 L178.14,273.50 L181.27,273.50 L184.40,273.50 L187.53,273.50 L190.66,273.50 L193.79,273.50 L196.92,273.50 L200.05,273.50 L203.19,273.50 L206.32,273.50 L209.45,273.50 L212.58,273.50 L215.71,273.50 L218.84,273.50 L221.97,273.50 L225.10,273.50 L228.23,273.50 L231.36,273.50 L234.49,273.50 L237.62,273.50 L240.76,273.50 L243.89,273.50 L247.02,273.50 L250.15,273.50 L253.28,273.50 L256.41,273.50 L259.54,273.50 L262.67,273.50 L265.80,273.50 L268.93,273.50 L272.06,273.50 L275.20,273.50 L278.33,273.50 L281.46,273.50 L284.59,273.50 L287.72,273.50 L290.85,273.50 L293.98,273.50 L297.11,273.50 L300.24,273.50 L303.37,273.50 L306.50,273.50 L309.64,273.50 L312.77,273.50 L315.90,273.50 L319.03,273.50 L322.16,273.50 L325.29,273.50 L328.42,273.50 L331.55,273.50 L334.68,273.50 L337.81,273.50 L340.94,273.50 L344.08,273.50 L347.21,273.50 L350.34,273.50 L353.47,273.50 L356.60,273.50 L359.73,273.50 L362.86,273.50 L365.99,273.50 L369.12,273.50 L372.25,273.50 L375.38,273.50 L378.52,273.50 L381.65,273.50 L384.78,273.50 L387.91,273.50 L391.04,273.50 L394.17,273.50 L397.30,273.50 L400.43,273.50 L403.56,273.50 L406.69,273.50 L409.82,273.50 L412.96,273.50 L416.09,273.50 L419.22,273.50 L422.35,273.50 L425.48,273.50 L428.61,273.50 L431.74,273.50 L434.87,273.50 L438.00,273.50 L441.13,273.50 L444.26,273.50 L447.40,273.50 L450.53,273.50 L453.66,273.50 L456.79,273.50 L459.92,273.50 L463.05,273.50 L466.18,273.50 L469.31,273.50 L472.44,273.50 L475.57,273.50 L478.70,273.50 L481.84,273.50 L484.97,273.50 L488.10,273.50 L491.23,273.50 L494.36,273.50 L497.49,273.50 L500.62,273.50 L503.75,273.50 L506.88,273.50 L510.01,273.50 L513.14,273.50 L516.27,273.50 L519.41,273.50 L522.54,273.50 L525.67,273.50 L528.80,273.50 L531.93,273.50 L535.06,273.50 L538.19,273.50 L541.32,273.50 L544.45,273.50 L547.58,273.50 L550.71,273.50 L553.85,273.50 L556.98,273.50 L560.11,273.50 L563.24,273.50 L566.37,273.50 L569.50,273.50 L572.63,273.50 L575.76,273.50 L578.89,273.50 L582.02,273.50 L585.15,273.50 L588.29,273.50 L591.42,273.50 L594.55,273.50 L597.68,273.50 L600.81,273.50 L603.94,273.50 L607.07,273.50 L610.20,273.50 L613.33,273.50 L616.46,273.50 L619.59,273.50 L622.73,273.50 L625.86,273.50 L628.99,273.50 L632.12,273.50 L635.25,273.50 L638.38,273.50 L641.51,273.50 L644.64,273.50 L647.77,273.50 L650.90,273.50 L654.03,273.50 L657.17,273.50 L660.30,273.50" fill="none" stroke="#1c1c1c" stroke-width="1.1" stroke-linejoin="round"/>
<path d="M52.90,273.50 L56.03,269.20 L59.16,264.91 L62.29,260.61 L65.43,256.32 L68.56,252.02 L71.69,247.72 L74.82,243.43 L77.95,239.13 L81.08,234.84 L84.21,230.54 L87.34,226.25 L90.47,221.95 L93.60,217.65 L96.73,213.36 L99.87,209.06 L103.00,204.77 L106.13,200.47 L109.26,196.17 L112.39,191.88 L115.52,187.58 L118.65,183.29 L121.78,182.81 L124.91,187.11 L128.04,191.40 L131.17,195.70 L134.31,199.99 L137.44,204.29 L140.57,208.58 L143.70,212.88 L146.83,217.18 L149.96,221.47 L153.09,225.77 L156.22,230.06 L159.35,234.36 L162.48,238.66 L165.61,242.95 L168.75,247.25 L171.88,251.54 L175.01,255.84 L178.14,260.14 L181.27,264.43 L184.40,268.73 L187.53,273.02 L190.66,273.50 L193.79,273.50 L196.92,273.50 L200.05,273.50 L203.19,273.50 L206.32,273.50 L209.45,273.50 L212.58,273.50 L215.71,273.50 L218.84,273.50 L221.97,273.50 L225.10,273.50 L228.23,273.50 L231.36,273.50 L234.49,273.50 L237.62,273.50 L240.76,273.50 L243.89,273.50 L247.02,273.50 L250.15,273.50 L253.28,273.50 L256.41,273.50 L259.54,273.50 L262.67,273.50 L265.80,273.50 L268.93,273.50 L272.06,273.50 L275.20,273.50 L278.33,273.50 L281.46,273.50 L284.59,273.50 L287.72,273.50 L290.85,273.50 L293.98,273.50 L297.11,273.50 L300.24,273.50 L303.37,273.50 L306.50,273.50 L309.64,273.50 L312.77,273.50 L315.90,273.50 L319.03,273.50 L322.16,273.50 L325.29,273.50 L328.42,273.50 L331.55,273.50 L334.68,273.50 L337.81,273.50 L340.94,273.50 L344.08,273.50 L347.21,273.50 L350.34,273.50 L353.47,273.50 L356.60,273.50 L359.73,273.50 L362.86,273.50 L365.99,273.50 L369.12,273.50 L372.25,273.50 L375.38,273.50 L378.52,273.50 L381.65,273.50 L384.78,273.50 L387.91,273.50 L391.04,273.50 L394.17,273.50 L397.30,273.50 L400.43,273.50 L403.56,273.50 L406.69,273.50 L409.82,273.50 L412.96,273.50 L416.09,273.50 L419.22,273.50 L422.35,273.50 L425.48,273.50 L428.61,273.50 L431.74,273.50 L434.87,273.50 L438.00,273.50 L441.13,273.50 L444.26,273.50 L447.40,273.50 L450.53,273.50 L453.66,273.50 L456.79,273.50 L459.92,273.50 L463.05,273.50 L466.18,273.50 L469.31,273.50 L472.44,273.50 L475.57,273.50 L478.70,273.50 L481.84,273.50 L484.97,273.50 L488.10,273.50 L491.23,273.50 L494.36,273.50 L497.49,273.50 L500.62,273.50 L503.75,273.50 L506.88,273.50 L510.01,273.50 L513.14,273.50 L516.27,273.50 L519.41,273.50 L522.54,273.50 L525.67,273.50 L528.80,273.50 L531.93,273.50 L535.06,273.50 L538.19,273.50 L541.32,273.50 L544.45,273.50 L547.58,273.50 L550.71,273.50 L553.85,273.50 L556.98,273.50 L560.11,273.50 L563.24,273.50 L566.37,273.50 L569.50,273.50 L572.63,273.50 L575.76,273.50 L578.89,273.50 L582.02,273.50 L585.15,273.50 L588.29,273.50 L591.42,273.50 L594.55,273.50 L597.68,273.50 L600.81,273.50 L603.94,273.50 L607.07,273.50 L610.20,273.50 L613.33,273.50 L616.46,273.50 L619.59,273.50 L622.73,273.50 L625.86,273.50 L628.99,273.50 L632.12,273.50 L635.25,273.50 L638.38,273.50 L641.51,273.50 L644.64,273.50 L647.77,273.50 L650.90,273.50 L654.03,273.50 L657.17,273.50 L660.30,273.50" fill="none" stroke="#DF536B" stroke-width="1.1" stroke-linejoin="round"/>
<path d="M52.90,273.50 L56.03,273.50 L59.16,273.50 L62.29,273.50 L65.43,273.50 L68.56,273.50 L71.69,273.50 L74.82,273.50 L77.95,273.50 L81.08,273.50 L84.21,273.50 L87.34,273.50 L90.47,273.50 L93.60,273.50 L96.73,273.50 L99.87,273.50 L103.00,273.50 L106.13,273.50 L109.26,273.50 L112.39,273.50 L115.52,273.50 L118.65,273.50 L121.78,271.59 L124.91,267.29 L128.04,263.00 L131.17,258.70 L134.31,254.41 L137.44,250.11 L140.57,245.82 L143.70,241.52 L146.83,237.22 L149.96,232.93 L153.09,228.63 L156.22,224.34 L159.35,220.04 L162.48,215.74 L165.61,211.45 L168.75,207.15 L171.88,202.86 L175.01,198.56 L178.14,194.26 L181.27,189.97 L184.40,185.67 L187.53,181.38 L190.66,184.72 L193.79,189.01 L196.92,193.31 L200.05,197.61 L203.19,201.90 L206.32,206.20 L209.45,210.49 L212.58,214.79 L215.71,219.09 L218.84,223.38 L221.97,227.68 L225.10,231.97 L228.23,236.27 L231.36,240.56 L234.49,244.86 L237.62,249.16 L240.76,253.45 L243.89,257.75 L247.02,262.04 L250.15,266.34 L253.28,270.64 L256.41,273.50 L259.54,273.50 L262.67,273.50 L265.80,273.50 L268.93,273.50 L272.06,273.50 L275.20,273.50 L278.33,273.50 L281.46,273.50 L284.59,273.50 L287.72,273.50 L290.85,273.50 L293.98,273.50 L297.11,273.50 L300.24,273.50 L303.37,273.50 L306.50,273.50 L309.64,273.50 L312.77,273.50 L315.90,273.50 L319.03,273.50 L322.16,273.50 L325.29,273.50 L328.42,273.50 L331.55,273.50 L334.68,273.50 L337.81,273.50 L340.94,273.50 L344.08,273.50 L347.21,273.50 L350.34,273.50 L353.47,273.50 L356.60,273.50 L359.73,273.50 L362.86,273.50 L365.99,273.50 L369.12,273.50 L372.25,273.50 L375.38,273.50 L378.52,273.50 L381.65,273.50 L384.78,273.50 L387.91,273.50 L391.04,273.50 L394.17,273.50 L397.30,273.50 L400.43,273.50 L403.56,273.50 L406.69,273.50 L409.82,273.50 L412.96,273.50 L416.09,273.50 L419.22,273.50 L422.35,273.50 L425.48,273.50 L428.61,273.50 L431.74,273.50 L434.87,273.50 L438.00,273.50 L441.13,273.50 L444.26,273.50 L447.40,273.50 L450.53,273.50 L453.66,273.50 L456.79,273.50 L459.92,273.50 L463.05,273.50 L466.18,273.50 L469.31,273.50 L472.44,273.50 L475.57,273.50 L478.70,273.50 L481.84,273.50 L484.97,273.50 L488.10,273.50 L491.23,273.50 L494.36,273.50 L497.49,273.50 L500.62,273.50 L503.75,273.50 L506.88,273.50 L510.01,273.50 L513.14,273.50 L516.27,273.50 L519.41,273.50 L522.54,273.50 L525.67,273.50 L528.80,273.50 L531.93,273.50 L535.06,273.50 L538.19,273.50 L541.32,273.50 L544.45,273.50 L547.58,273.50 L550.71,273.50 L553.85,273.50 L556.98,273.50 L560.11,273.50 L563.24,273.50 L566.37,273.50 L569.50,273.50 L572.63,273.50 L575.76,273.50 L578.89,273.50 L582.02,273.50 L585.15,273.50 L588.29,273.50 L591.42,273.50 L594.55,273.50 L597.68,273.50 L600.81,273.50 L603.94,273.50 L607.07,273.50 L610.20,273.50 L613.33,273.50 L616.46,273.50 L619.59,273.50 L622.73,273.50 L625.86,273.50 L628.99,273.50 L632.12,273.50 L635.25,273.50 L638.38,273.50 L641.51,273.50 L644.64,273.50 L647.77,273.50 L650.90,273.50 L654.03,273.50 L657.17,273.50 L660.30,273.50" fill="none" stroke="#4EB168" stroke-width="1.1" stroke-linejoin="round"/>
<path d="M52.90,273.50 L56.03,273.50 L59.16,273.50 L62.29,273.50 L65.43,273.50 L68.56,273.50 L71.69,273.50 L74.82,273.50 L77.95,273.50 L81.08,273.50 L84.21,273.50 L87.34,273.50 L90.47,273.50 L93.60,273.50 L96.73,273.50 L99.87,273.50 L103.00,273.50 L106.13,273.50 L109.26,273.50 L112.39,273.50 L115.52,273.50 L118.65,273.50 L121.78,273.50 L124.91,273.50 L128.04,273.50 L131.17,273.50 L134.31,273.50 L137.44,273.50 L140.57,273.50 L143.70,273.50 L146.83,273.50 L149.96,273.50 L153.09,273.50 L156.22,273.50 L159.35,273.50 L162.48,273.50 L165.61,273.50 L168.75,273.50 L171.88,273.50 L175.01,273.50 L178.14,273.50 L181.27,273.50 L184.40,273.50 L187.53,273.50 L190.66,269.68 L193.79,265.39 L196.92,261.09 L200.05,256.79 L203.19,252.50 L206.32,248.20 L209.45,243.91 L212.58,239.61 L215.71,235.31 L218.84,231.02 L221.97,226.72 L225.10,222.43 L228.23,218.13 L231.36,213.84 L234.49,209.54 L237.62,205.24 L240.76,200.95 L243.89,196.65 L247.02,192.36 L250.15,188.06 L253.28,183.76 L256.41,182.33 L259.54,186.63 L262.67,190.92 L265.80,195.22 L268.93,199.52 L272.06,203.81 L275.20,208.11 L278.33,212.40 L281.46,216.70 L284.59,220.99 L287.72,225.29 L290.85,229.59 L293.98,233.88 L297.11,238.18 L300.24,242.47 L303.37,246.77 L306.50,251.07 L309.64,255.36 L312.77,259.66 L315.90,263.95 L319.03,268.25 L322.16,272.55 L325.29,273.50 L328.42,273.50 L331.55,273.50 L334.68,273.50 L337.81,273.50 L340.94,273.50 L344.08,273.50 L347.21,273.50 L350.34,273.50 L353.47,273.50 L356.60,273.50 L359.73,273.50 L362.86,273.50 L365.99,273.50 L369.12,273.50 L372.25,273.50 L375.38,273.50 L378.52,273.50 L381.65,273.50 L384.78,273.50 L387.91,273.50 L391.04,273.50 L394.17,273.50 L397.30,273.50 L400.43,273.50 L403.56,273.50 L406.69,273.50 L409.82,273.50 L412.96,273.50 L416.09,273.50 L419.22,273.50 L422.35,273.50 L425.48,273.50 L428.61,273.50 L431.74,273.50 L434.87,273.50 L438.00,273.50 L441.13,273.50 L444.26,273.50 L447.40,273.50 L450.53,273.50 L453.66,273.50 L456.79,273.50 L459.92,273.50 L463.05,273.50 L466.18,273.50 L469.31,273.50 L472.44,273.50 L475.57,273.50 L478.70,273.50 L481.84,273.50 L484.97,273.50 L488.10,273.50 L491.23,273.50 L494.36,273.50 L497.49,273.50 L500.62,273.50 L503.75,273.50 L506.88,273.50 L510.01,273.50 L513.14,273.50 L516.27,273.50 L519.41,273.50 L522.54,273.50 L525.67,273.50 L528.80,273.50 L531.93,273.50 L535.06,273.50 L538.19,273.50 L541.32,273.50 L544.45,273.50 L547.58,273.50 L550.71,273.50 L553.85,273.50 L556.98,273.50 L560.11,273.50 L563.24,273.50 L566.37,273.50 L569.50,273.50 L572.63,273.50 L575.76,273.50 L578.89,273.50 L582.02,273.50 L585.15,273.50 L588.29,273.50 L591.42,273.50 L594.55,273.50 L597.68,273.50 L600.81,273.50 L603.94,273.50 L607.07,273.50 L610.20,273.50 L613.33,273.50 L616.46,273.50 L619.59,273.50 L622.73,273.50 L625.86,273.50 L628.99,273.50 L632.12,273.50 L635.25,273.50 L638.38,273.50 L641.51,273.50 L644.64,273.50 L647.77,273.50 L650.90,273.50 L654.03,273.50 L657.17,273.50 L660.30,273.50" fill="none" stroke="#2E7EC7" stroke-width="1.1" stroke-linejoin="round"/>
<path d="M52.90,273.50 L56.03,273.50 L59.16,273.50 L62.29,273.50 L65.43,273.50 L68.56,273.50 L71.69,273.50 L74.82,273.50 L77.95,273.50 L81.08,273.50 L84.21,273.50 L87.34,273.50 L90.47,273.50 L93.60,273.50 L96.73,273.50 L99.87,273.50 L103.00,273.50 L106.13,273.50 L109.26,273.50 L112.39,273.50 L115.52,273.50 L118.65,273.50 L121.78,273.50 L124.91,273.50 L128.04,273.50 L131.17,273.50 L134.31,273.50 L137.44,273.50 L140.57,273.50 L143.70,273.50 L146.83,273.50 L149.96,273.50 L153.09,273.50 L156.22,273.50 L159.35,273.50 L162.48,273.50 L165.61,273.50 L168.75,273.50 L171.88,273.50 L175.01,273.50 L178.14,273.50 L181.27,273.50 L184.40,273.50 L187.53,273.50 L190.66,273.50 L193.79,273.50 L196.92,273.50 L200.05,273.50 L203.19,273.50 L206.32,273.50 L209.45,273.50 L212.58,273.50 L215.71,273.50 L218.84,273.50 L221.97,273.50 L225.10,273.50 L228.23,273.50 L231.36,273.50 L234.49,273.50 L237.62,273.50 L240.76,273.50 L243.89,273.50 L247.02,273.50 L250.15,273.50 L253.28,273.50 L256.41,272.07 L259.54,267.77 L262.67,263.48 L265.80,259.18 L268.93,254.88 L272.06,250.59 L275.20,246.29 L278.33,242.00 L281.46,237.70 L284.59,233.41 L287.72,229.11 L290.85,224.81 L293.98,220.52 L297.11,216.22 L300.24,211.93 L303.37,207.63 L306.50,203.33 L309.64,199.04 L312.77,194.74 L315.90,190.45 L319.03,186.15 L322.16,181.85 L325.29,184.24 L328.42,188.54 L331.55,192.83 L334.68,197.13 L337.81,201.42 L340.94,205.72 L344.08,210.02 L347.21,214.31 L350.34,218.61 L353.47,222.90 L356.60,227.20 L359.73,231.50 L362.86,235.79 L365.99,240.09 L369.12,244.38 L372.25,248.68 L375.38,252.98 L378.52,257.27 L381.65,261.57 L384.78,265.86 L387.91,270.16 L391.04,273.50 L394.17,273.50 L397.30,273.50 L400.43,273.50 L403.56,273.50 L406.69,273.50 L409.82,273.50 L412.96,273.50 L416.09,273.50 L419.22,273.50 L422.35,273.50 L425.48,273.50 L428.61,273.50 L431.74,273.50 L434.87,273.50 L438.00,273.50 L441.13,273.50 L444.26,273.50 L447.40,273.50 L450.53,273.50 L453.66,273.50 L456.79,273.50 L459.92,273.50 L463.05,273.50 L466.18,273.50 L469.31,273.50 L472.44,273.50 L475.57,273.50 L478.70,273.50 L481.84,273.50 L484.97,273.50 L488.10,273.50 L491.23,273.50 L494.36,273.50 L497.49,273.50 L500.62,273.50 L503.75,273.50 L506.88,273.50 L510.01,273.50 L513.14,273.50 L516.27,273.50 L519.41,273.50 L522.54,273.50 L525.67,273.50 L528.80,273.50 L531.93,273.50 L535.06,273.50 L538.19,273.50 L541.32,273.50 L544.45,273.50 L547.58,273.50 L550.71,273.50 L553.85,273.50 L556.98,273.50 L560.11,273.50 L563.24,273.50 L566.37,273.50 L569.50,273.50 L572.63,273.50 L575.76,273.50 L578.89,273.50 L582.02,273.50 L585.15,273.50 L588.29,273.50 L591.42,273.50 L594.55,273.50 L597.68,273.50 L600.81,273.50 L603.94,273.50 L607.07,273.50 L610.20,273.50 L613.33,273.50 L616.46,273.50 L619.59,273.50 L622.73,273.50 L625.86,273.50 L628.99,273.50 L632.12,273.50 L635.25,273.50 L638.38,273.50 L641.51,273.50 L644.64,273.50 L647.77,273.50 L650.90,273.50 L654.03,273.50 L657.17,273.50 L660.30,273.50" fill="none" stroke="#4DB5C1" stroke-width="1.1" stroke-linejoin="round"/>
<path d="M52.90,273.50 L56.03,273.50 L59.16,273.50 L62.29,273.50 L65.43,273.50 L68.56,273.50 L71.69,273.50 L74.82,273.50 L77.95,273.50 L81.08,273.50 L84.21,273.50 L87.34,273.50 L90.47,273.50 L93.60,273.50 L96.73,273.50 L99.87,273.50 L103.00,273.50 L106.13,273.50 L109.26,273.50 L112.39,273.50 L115.52,273.50 L118.65,273.50 L121.78,273.50 L124.91,273.50 L128.04,273.50 L131.17,273.50 L134.31,273.50 L137.44,273.50 L140.57,273.50 L143.70,273.50 L146.83,273.50 L149.96,273.50 L153.09,273.50 L156.22,273.50 L159.35,273.50 L162.48,273.50 L165.61,273.50 L168.75,273.50 L171.88,273.50 L175.01,273.50 L178.14,273.50 L181.27,273.50 L184.40,273.50 L187.53,273.50 L190.66,273.50 L193.79,273.50 L196.92,273.50 L200.05,273.50 L203.19,273.50 L206.32,273.50 L209.45,273.50 L212.58,273.50 L215.71,273.50 L218.84,273.50 L221.97,273.50 L225.10,273.50 L228.23,273.50 L231.36,273.50 L234.49,273.50 L237.62,273.50 L240.76,273.50 L243.89,273.50 L247.02,273.50 L250.15,273.50 L253.28,273.50 L256.41,273.50 L259.54,273.50 L262.67,273.50 L265.80,273.50 L268.93,273.50 L272.06,273.50 L275.20,273.50 L278.33,273.50 L281.46,273.50 L284.59,273.50 L287.72,273.50 L290.85,273.50 L293.98,273.50 L297.11,273.50 L300.24,273.50 L303.37,273.50 L306.50,273.50 L309.64,273.50 L312.77,273.50 L315.90,273.50 L319.03,273.50 L322.16,273.50 L325.29,270.16 L328.42,265.86 L331.55,261.57 L334.68,257.27 L337.81,252.98 L340.94,248.68 L344.08,244.38 L347.21,240.09 L350.34,235.79 L353.47,231.50 L356.60,227.20 L359.73,222.90 L362.86,218.61 L365.99,214.31 L369.12,210.02 L372.25,205.72 L375.38,201.42 L378.52,197.13 L381.65,192.83 L384.78,188.54 L387.91,184.24 L391.04,181.85 L394.17,186.15 L397.30,190.45 L400.43,194.74 L403.56,199.04 L406.69,203.33 L409.82,207.63 L412.96,211.93 L416.09,216.22 L419.22,220.52 L422.35,224.81 L425.48,229.11 L428.61,233.41 L431.74,237.70 L434.87,242.00 L438.00,246.29 L441.13,250.59 L444.26,254.88 L447.40,259.18 L450.53,263.48 L453.66,267.77 L456.79,272.07 L459.92,273.50 L463.05,273.50 L466.18,273.50 L469.31,273.50 L472.44,273.50 L475.57,273.50 L478.70,273.50 L481.84,273.50 L484.97,273.50 L488.10,273.50 L491.23,273.50 L494.36,273.50 L497.49,273.50 L500.62,273.50 L503.75,273.50 L506.88,273.50 L510.01,273.50 L513.14,273.50 L516.27,273.50 L519.41,273.50 L522.54,273.50 L525.67,273.50 L528.80,273.50 L531.93,273.50 L535.06,273.50 L538.19,273.50 L541.32,273.50 L544.45,273.50 L547.58,273.50 L550.71,273.50 L553.85,273.50 L556.98,273.50 L560.11,273.50 L563.24,273.50 L566.37,273.50 L569.50,273.50 L572.63,273.50 L575.76,273.50 L578.89,273.50 L582.02,273.50 L585.15,273.50 L588.29,273.50 L591.42,273.50 L594.55,273.50 L597.68,273.50 L600.81,273.50 L603.94,273.50 L607.07,273.50 L610.20,273.50 L613.33,273.50 L616.46,273.50 L619.59,273.50 L622.73,273.50 L625.86,273.50 L628.99,273.50 L632.12,273.50 L635.25,273.50 L638.38,273.50 L641.51,273.50 L644.64,273.50 L647.77,273.50 L650.90,273.50 L654.03,273.50 L657.17,273.50 L660.30,273.50" fill="none" stroke="#B42896" stroke-width="1.1" stroke-linejoin="round"/>
<path d="M52.90,273.50 L56.03,273.50 L59.16,273.50 L62.29,273.50 L65.43,273.50 L68.56,273.50 L71.69,273.50 L74.82,273.50 L77.95,273.50 L81.08,273.50 L84.21,273.50 L87.34,273.50 L90.47,273.50 L93.60,273.50 L96.73,273.50 L99.87,273.50 L103.00,273.50 L106.13,273.50 L109.26,273.50 L112.39,273.50 L115.52,273.50 L118.65,273.50 L121.78,273.50 L124.91,273.50 L128.04,273.50 L131.17,273.50 L134.31,273.50 L137.44,273.50 L140.57,273.50 L143.70,273.50 L146.83,273.50 L149.96,273.50 L153.09,273.50 L156.22,273.50 L159.35,273.50 L162.48,273.50 L165.61,273.50 L168.75,273.50 L171.88,273.50 L175.01,273.50 L178.14,273.50 L181.27,273.50 L184.40,273.50 L187.53,273.50 L190.66,273.50 L193.79,273.50 L196.92,273.50 L200.05,273.50 L203.19,273.50 L206.32,273.50 L209.45,273.50 L212.58,273.50 L215.71,273.50 L218.84,273.50 L221.97,273.50 L225.10,273.50 L228.23,273.50 L231.36,273.50 L234.49,273.50 L237.62,273.50 L240.76,273.50 L243.89,273.50 L247.02,273.50 L250.15,273.50 L253.28,273.50 L256.41,273.50 L259.54,273.50 L262.67,273.50 L265.80,273.50 L268.93,273.50 L272.06,273.50 L275.20,273.50 L278.33,273.50 L281.46,273.50 L284.59,273.50 L287.72,273.50 L290.85,273.50 L293.98,273.50 L297.11,273.50 L300.24,273.50 L303.37,273.50 L306.50,273.50 L309.64,273.50 L312.77,273.50 L315.90,273.50 L319.03,273.50 L322.16,273.50 L325.29,273.50 L328.42,273.50 L331.55,273.50 L334.68,273.50 L337.81,273.50 L340.94,273.50 L344.08,273.50 L347.21,273.50 L350.34,273.50 L353.47,273.50 L356.60,273.50 L359.73,273.50 L362.86,273.50 L365.99,273.50 L369.12,273.50 L372.25,273.50 L375.38,273.50 L378.52,273.50 L381.65,273.50 L384.78,273.50 L387.91,273.50 L391.04,272.55 L394.17,268.25 L397.30,263.95 L400.43,259.66 L403.56,255.36 L406.69,251.07 L409.82,246.77 L412.96,242.47 L416.09,238.18 L419.22,233.88 L422.35,229.59 L425.48,225.29 L428.61,220.99 L431.74,216.70 L434.87,212.40 L438.00,208.11 L441.13,203.81 L444.26,199.52 L447.40,195.22 L450.53,190.92 L453.66,186.63 L456.79,182.33 L459.92,183.76 L463.05,188.06 L466.18,192.36 L469.31,196.65 L472.44,200.95 L475.57,205.24 L478.70,209.54 L481.84,213.84 L484.97,218.13 L488.10,222.43 L491.23,226.72 L494.36,231.02 L497.49,235.31 L500.62,239.61 L503.75,243.91 L506.88,248.20 L510.01,252.50 L513.14,256.79 L516.27,261.09 L519.41,265.39 L522.54,269.68 L525.67,273.50 L528.80,273.50 L531.93,273.50 L535.06,273.50 L538.19,273.50 L541.32,273.50 L544.45,273.50 L547.58,273.50 L550.71,273.50 L553.85,273.50 L556.98,273.50 L560.11,273.50 L563.24,273.50 L566.37,273.50 L569.50,273.50 L572.63,273.50 L575.76,273.50 L578.89,273.50 L582.02,273.50 L585.15,273.50 L588.29,273.50 L591.42,273.50 L594.55,273.50 L597.68,273.50 L600.81,273.50 L603.94,273.50 L607.07,273.50 L610.20,273.50 L613.33,273.50 L616.46,273.50 L619.59,273.50 L622.73,273.50 L625.86,273.50 L628.99,273.50 L632.12,273.50 L635.25,273.50 L638.38,273.50 L641.51,273.50 L644.64,273.50 L647.77,273.50 L650.90,273.50 L654.03,273.50 L657.17,273.50 L660.30,273.50" fill="none" stroke="#1c1c1c" stroke-width="1.1" stroke-linejoin="round"/>
<path d="M52.90,273.50 L56.03,273.50 L59.16,273.50 L62.29,273.50 L65.43,273.50 L68.56,273.50 L71.69,273.50 L74.82,273.50 L77.95,273.50 L81.08,273.50 L84.21,273.50 L87.34,273.50 L90.47,273.50 L93.60,273.50 L96.73,273.50 L99.87,273.50 L103.00,273.50 L106.13,273.50 L109.26,273.50 L112.39,273.50 L115.52,273.50 L118.65,273.50 L121.78,273.50 L124.91,273.50 L128.04,273.50 L131.17,273.50 L134.31,273.50 L137.44,273.50 L140.57,273.50 L143.70,273.50 L146.83,273.50 L149.96,273.50 L153.09,273.50 L156.22,273.50 L159.35,273.50 L162.48,273.50 L165.61,273.50 L168.75,273.50 L171.88,273.50 L175.01,273.50 L178.14,273.50 L181.27,273.50 L184.40,273.50 L187.53,273.50 L190.66,273.50 L193.79,273.50 L196.92,273.50 L200.05,273.50 L203.19,273.50 L206.32,273.50 L209.45,273.50 L212.58,273.50 L215.71,273.50 L218.84,273.50 L221.97,273.50 L225.10,273.50 L228.23,273.50 L231.36,273.50 L234.49,273.50 L237.62,273.50 L240.76,273.50 L243.89,273.50 L247.02,273.50 L250.15,273.50 L253.28,273.50 L256.41,273.50 L259.54,273.50 L262.67,273.50 L265.80,273.50 L268.93,273.50 L272.06,273.50 L275.20,273.50 L278.33,273.50 L281.46,273.50 L284.59,273.50 L287.72,273.50 L290.85,273.50 L293.98,273.50 L297.11,273.50 L300.24,273.50 L303.37,273.50 L306.50,273.50 L309.64,273.50 L312.77,273.50 L315.90,273.50 L319.03,273.50 L322.16,273.50 L325.29,273.50 L328.42,273.50 L331.55,273.50 L334.68,273.50 L337.81,273.50 L340.94,273.50 L344.08,273.50 L347.21,273.50 L350.34,273.50 L353.47,273.50 L356.60,273.50 L359.73,273.50 L362.86,273.50 L365.99,273.50 L369.12,273.50 L372.25,273.50 L375.38,273.50 L378.52,273.50 L381.65,273.50 L384.78,273.50 L387.91,273.50 L391.04,273.50 L394.17,273.50 L397.30,273.50 L400.43,273.50 L403.56,273.50 L406.69,273.50 L409.82,273.50 L412.96,273.50 L416.09,273.50 L419.22,273.50 L422.35,273.50 L425.48,273.50 L428.61,273.50 L431.74,273.50 L434.87,273.50 L438.00,273.50 L441.13,273.50 L444.26,273.50 L447.40,273.50 L450.53,273.50 L453.66,273.50 L456.79,273.50 L459.92,270.64 L463.05,266.34 L466.18,262.04 L469.31,257.75 L472.44,253.45 L475.57,249.16 L478.70,244.86 L481.84,240.56 L484.97,236.27 L488.10,231.97 L491.23,227.68 L494.36,223.38 L497.49,219.09 L500.62,214.79 L503.75,210.49 L506.88,206.20 L510.01,201.90 L513.14,197.61 L516.27,193.31 L519.41,189.01 L522.54,184.72 L525.67,181.38 L528.80,185.67 L531.93,189.97 L535.06,194.26 L538.19,198.56 L541.32,202.86 L544.45,207.15 L547.58,211.45 L550.71,215.74 L553.85,220.04 L556.98,224.34 L560.11,228.63 L563.24,232.93 L566.37,237.22 L569.50,241.52 L572.63,245.82 L575.76,250.11 L578.89,254.41 L582.02,258.70 L585.15,263.00 L588.29,267.29 L591.42,271.59 L594.55,273.50 L597.68,273.50 L600.81,273.50 L603.94,273.50 L607.07,273.50 L610.20,273.50 L613.33,273.50 L616.46,273.50 L619.59,273.50 L622.73,273.50 L625.86,273.50 L628.99,273.50 L632.12,273.50 L635.25,273.50 L638.38,273.50 L641.51,273.50 L644.64,273.50 L647.77,273.50 L650.90,273.50 L654.03,273.50 L657.17,273.50 L660.30,273.50" fill="none" stroke="#DF536B" stroke-width="1.1" stroke-linejoin="round"/>
<path d="M52.90,273.50 L56.03,273.50 L59.16,273.50 L62.29,273.50 L65.43,273.50 L68.56,273.50 L71.69,273.50 L74.82,273.50 L77.95,273.50 L81.08,273.50 L84.21,273.50 L87.34,273.50 L90.47,273.50 L93.60,273.50 L96.73,273.50 L99.87,273.50 L103.00,273.50 L106.13,273.50 L109.26,273.50 L112.39,273.50 L115.52,273.50 L118.65,273.50 L121.78,273.50 L124.91,273.50 L128.04,273.50 L131.17,273.50 L134.31,273.50 L137.44,273.50 L140.57,273.50 L143.70,273.50 L146.83,273.50 L149.96,273.50 L153.09,273.50 L156.22,273.50 L159.35,273.50 L162.48,273.50 L165.61,273.50 L168.75,273.50 L171.88,273.50 L175.01,273.50 L178.14,273.50 L181.27,273.50 L184.40,273.50 L187.53,273.50 L190.66,273.50 L193.79,273.50 L196.92,273.50 L200.05,273.50 L203.19,273.50 L206.32,273.50 L209.45,273.50 L212.58,273.50 L215.71,273.50 L218.84,273.50 L221.97,273.50 L225.10,273.50 L228.23,273.50 L231.36,273.50 L234.49,273.50 L237.62,273.50 L240.76,273.50 L243.89,273.50 L247.02,273.50 L250.15,273.50 L253.28,273.50 L256.41,273.50 L259.54,273.50 L262.67,273.50 L265.80,273.50 L268.93,273.50 L272.06,273.50 L275.20,273.50 L278.33,273.50 L281.46,273.50 L284.59,273.50 L287.72,273.50 L290.85,273.50 L293.98,273.50 L297.11,273.50 L300.24,273.50 L303.37,273.50 L306.50,273.50 L309.64,273.50 L312.77,273.50 L315.90,273.50 L319.03,273.50 L322.16,273.50 L325.29,273.50 L328.42,273.50 L331.55,273.50 L334.68,273.50 L337.81,273.50 L340.94,273.50 L344.08,273.50 L347.21,273.50 L350.34,273.50 L353.47,273.50 L356.60,273.50 L359.73,273.50 L362.86,273.50 L365.99,273.50 L369.12,273.50 L372.25,273.50 L375.38,273.50 L378.52,273.50 L381.65,273.50 L384.78,273.50 L387.91,273.50 L391.04,273.50 L394.17,273.50 L397.30,273.50 L400.43,273.50 L403.56,273.50 L406.69,273.50 L409.82,273.50 L412.96,273.50 L416.09,273.50 L419.22,273.50 L422.35,273.50 L425.48,273.50 L428.61,273.50 L431.74,273.50 L434.87,273.50 L438.00,273.50 L441.13,273.50 L444.26,273.50 L447.40,273.50 L450.53,273.50 L453.66,273.50 L456.79,273.50 L459.92,273.50 L463.05,273.50 L466.18,273.50 L469.31,273.50 L472.44,273.50 L475.57,273.50 L478.70,273.50 L481.84,273.50 L484.97,273.50 L488.10,273.50 L491.23,273.50 L494.36,273.50 L497.49,273.50 L500.62,273.50 L503.75,273.50 L506.88,273.50 L510.01,273.50 L513.14,273.50 L516.27,273.50 L519.41,273.50 L522.54,273.50 L525.67,273.02 L528.80,268.73 L531.93,264.43 L535.06,260.14 L538.19,255.84 L541.32,251.54 L544.45,247.25 L547.58,242.95 L550.71,238.66 L553.85,234.36 L556.98,230.06 L560.11,225.77 L563.24,221.47 L566.37,217.18 L569.50,212.88 L572.63,208.58 L575.76,204.29 L578.89,199.99 L582.02,195.70 L585.15,191.40 L588.29,187.11 L591.42,182.81 L594.55,183.29 L597.68,187.58 L600.81,191.88 L603.94,196.17 L607.07,200.47 L610.20,204.77 L613.33,209.06 L616.46,213.36 L619.59,217.65 L622.73,221.95 L625.86,226.25 L628.99,230.54 L632.12,234.84 L635.25,239.13 L638.38,243.43 L641.51,247.72 L644.64,252.02 L647.77,256.32 L650.90,260.61 L654.03,264.91 L657.17,269.20 L660.30,273.50" fill="none" stroke="#4EB168" stroke-width="1.1" stroke-linejoin="round"/>
<path d="M52.90,273.50 L56.03,273.50 L59.16,273.50 L62.29,273.50 L65.43,273.50 L68.56,273.50 L71.69,273.50 L74.82,273.50 L77.95,273.50 L81.08,273.50 L84.21,273.50 L87.34,273.50 L90.47,273.50 L93.60,273.50 L96.73,273.50 L99.87,273.50 L103.00,273.50 L106.13,273.50 L109.26,273.50 L112.39,273.50 L115.52,273.50 L118.65,273.50 L121.78,273.50 L124.91,273.50 L128.04,273.50 L131.17,273.50 L134.31,273.50 L137.44,273.50 L140.57,273.50 L143.70,273.50 L146.83,273.50 L149.96,273.50 L153.09,273.50 L156.22,273.50 L159.35,273.50 L162.48,273.50 L165.61,273.50 L168.75,273.50 L171.88,273.50 L175.01,273.50 L178.14,273.50 L181.27,273.50 L184.40,273.50 L187.53,273.50 L190.66,273.50 L193.79,273.50 L196.92,273.50 L200.05,273.50 L203.19,273.50 L206.32,273.50 L209.45,273.50 L212.58,273.50 L215.71,273.50 L218.84,273.50 L221.97,273.50 L225.10,273.50 L228.23,273.50 L231.36,273.50 L234.49,273.50 L237.62,273.50 L240.76,273.50 L243.89,273.50 L247.02,273.50 L250.15,273.50 L253.28,273.50 L256.41,273.50 L259.54,273.50 L262.67,273.50 L265.80,273.50 L268.93,273.50 L272.06,273.50 L275.20,273.50 L278.33,273.50 L281.46,273.50 L284.59,273.50 L287.72,273.50 L290.85,273.50 L293.98,273.50 L297.11,273.50 L300.24,273.50 L303.37,273.50 L306.50,273.50 L309.64,273.50 L312.77,273.50 L315.90,273.50 L319.03,273.50 L322.16,273.50 L325.29,273.50 L328.42,273.50 L331.55,273.50 L334.68,273.50 L337.81,273.50 L340.94,273.50 L344.08,273.50 L347.21,273.50 L350.34,273.50 L353.47,273.50 L356.60,273.50 L359.73,273.50 L362.86,273.50 L365.99,273.50 L369.12,273.50 L372.25,273.50 L375.38,273.50 L378.52,273.50 L381.65,273.50 L384.78,273.50 L387.91,273.50 L391.04,273.50 L394.17,273.50 L397.30,273.50 L400.43,273.50 L403.56,273.50 L406.69,273.50 L409.82,273.50 L412.96,273.50 L416.09,273.50 L419.22,273.50 L422.35,273.50 L425.48,273.50 L428.61,273.50 L431.74,273.50 L434.87,273.50 L438.00,273.50 L441.13,273.50 L444.26,273.50 L447.40,273.50 L450.53,273.50 L453.66,273.50 L456.79,273.50 L459.92,273.50 L463.05,273.50 L466.18,273.50 L469.31,273.50 L472.44,273.50 L475.57,273.50 L478.70,273.50 L481.84,273.50 L484.97,273.50 L488.10,273.50 L491.23,273.50 L494.36,273.50 L497.49,273.50 L500.62,273.50 L503.75,273.50 L506.88,273.50 L510.01,273.50 L513.14,273.50 L516.27,273.50 L519.41,273.50 L522.54,273.50 L525.67,273.50 L528.80,273.50 L531.93,273.50 L535.06,273.50 L538.19,273.50 L541.32,273.50 L544.45,273.50 L547.58,273.50 L550.71,273.50 L553.85,273.50 L556.98,273.50 L560.11,273.50 L563.24,273.50 L566.37,273.50 L569.50,273.50 L572.63,273.50 L575.76,273.50 L578.89,273.50 L582.02,273.50 L585.15,273.50 L588.29,273.50 L591.42,273.50 L594.55,271.11 L597.68,266.82 L600.81,262.52 L603.94,258.23 L607.07,253.93 L610.20,249.63 L613.33,245.34 L616.46,241.04 L619.59,236.75 L622.73,232.45 L625.86,228.15 L628.99,223.86 L632.12,219.56 L635.25,215.27 L638.38,210.97 L641.51,206.68 L644.64,202.38 L647.77,198.08 L650.90,193.79 L654.03,189.49 L657.17,185.20 L660.30,180.90" fill="none" stroke="#2E7EC7" stroke-width="1.1" stroke-linejoin="round"/>
<path d="M684.45,336.6 H28.6 V436.47 H684.45" fill="none" stroke="#141414" stroke-width="1.05" stroke-linejoin="round" stroke-linecap="square"/>
<line x1="684.45" y1="336.6" x2="684.45" y2="436.47" stroke="#2a2a2a" stroke-width="1.0"/>
<text x="356.60" y="329.00" font-size="12.5" text-anchor="middle" font-weight="bold" fill="#111">log10−penalties</text>
<line x1="120.40" y1="436.47" x2="120.40" y2="442.77" stroke="#141414" stroke-width="1.05"/>
<text x="120.40" y="452.70" font-size="10" text-anchor="middle" fill="#1a1a1a">2</text>
<line x1="255.37" y1="436.47" x2="255.37" y2="442.77" stroke="#141414" stroke-width="1.05"/>
<text x="255.37" y="452.70" font-size="10" text-anchor="middle" fill="#1a1a1a">4</text>
<line x1="390.35" y1="436.47" x2="390.35" y2="442.77" stroke="#141414" stroke-width="1.05"/>
<text x="390.35" y="452.70" font-size="10" text-anchor="middle" fill="#1a1a1a">6</text>
<line x1="525.33" y1="436.47" x2="525.33" y2="442.77" stroke="#141414" stroke-width="1.05"/>
<text x="525.33" y="452.70" font-size="10" text-anchor="middle" fill="#1a1a1a">8</text>
<line x1="660.30" y1="436.47" x2="660.30" y2="442.77" stroke="#141414" stroke-width="1.05"/>
<text x="660.30" y="452.70" font-size="10" text-anchor="middle" fill="#1a1a1a">10</text>
<text x="356.60" y="464.30" font-size="10" text-anchor="middle" fill="#1a1a1a">c(1:nc)</text>
<line x1="28.60" y1="418.60" x2="22.30" y2="418.60" stroke="#141414" stroke-width="1.05"/>
<text transform="translate(21.30,418.60) rotate(-90)" font-size="10" text-anchor="middle" fill="#1a1a1a">−2</text>
<line x1="28.60" y1="394.80" x2="22.30" y2="394.80" stroke="#141414" stroke-width="1.05"/>
<text transform="translate(21.30,394.80) rotate(-90)" font-size="10" text-anchor="middle" fill="#1a1a1a">0</text>
<line x1="28.60" y1="371.00" x2="22.30" y2="371.00" stroke="#141414" stroke-width="1.05"/>
<text transform="translate(21.30,371.00) rotate(-90)" font-size="10" text-anchor="middle" fill="#1a1a1a">2</text>
<line x1="28.60" y1="347.20" x2="22.30" y2="347.20" stroke="#141414" stroke-width="1.05"/>
<text transform="translate(21.30,347.20) rotate(-90)" font-size="10" text-anchor="middle" fill="#1a1a1a">4</text>
<text transform="translate(8.60,386.54) rotate(-90)" font-size="10" text-anchor="middle" fill="#1a1a1a">log10_lambdas</text>
<line x1="58.00" y1="430.92" x2="115.30" y2="407.58" stroke="#2a2a2a" stroke-width="1.2"/>
<line x1="125.66" y1="403.92" x2="182.62" y2="386.75" stroke="#2a2a2a" stroke-width="1.2"/>
<line x1="193.29" y1="384.16" x2="249.97" y2="373.67" stroke="#2a2a2a" stroke-width="1.2"/>
<line x1="260.86" y1="372.30" x2="317.37" y2="368.51" stroke="#2a2a2a" stroke-width="1.2"/>
<line x1="328.21" y1="366.85" x2="385.00" y2="353.13" stroke="#2a2a2a" stroke-width="1.2"/>
<line x1="395.78" y1="352.68" x2="452.40" y2="361.47" stroke="#2a2a2a" stroke-width="1.2"/>
<line x1="463.21" y1="361.16" x2="519.95" y2="348.95" stroke="#2a2a2a" stroke-width="1.2"/>
<line x1="530.82" y1="348.00" x2="587.32" y2="350.09" stroke="#2a2a2a" stroke-width="1.2"/>
<line x1="598.25" y1="349.49" x2="654.86" y2="341.10" stroke="#2a2a2a" stroke-width="1.2"/>
<circle cx="52.91" cy="433.00" r="2.3" fill="none" stroke="#2a2a2a" stroke-width="1.15"/>
<circle cx="120.40" cy="405.51" r="2.3" fill="none" stroke="#2a2a2a" stroke-width="1.15"/>
<circle cx="187.89" cy="385.16" r="2.3" fill="none" stroke="#2a2a2a" stroke-width="1.15"/>
<circle cx="255.37" cy="372.67" r="2.3" fill="none" stroke="#2a2a2a" stroke-width="1.15"/>
<circle cx="322.86" cy="368.14" r="2.3" fill="none" stroke="#2a2a2a" stroke-width="1.15"/>
<circle cx="390.35" cy="351.84" r="2.3" fill="none" stroke="#2a2a2a" stroke-width="1.15"/>
<circle cx="457.84" cy="362.31" r="2.3" fill="none" stroke="#2a2a2a" stroke-width="1.15"/>
<circle cx="525.33" cy="347.80" r="2.3" fill="none" stroke="#2a2a2a" stroke-width="1.15"/>
<circle cx="592.81" cy="350.29" r="2.3" fill="none" stroke="#2a2a2a" stroke-width="1.15"/>
<circle cx="660.30" cy="340.30" r="2.3" fill="none" stroke="#2a2a2a" stroke-width="1.15"/>
</svg></body></html>
